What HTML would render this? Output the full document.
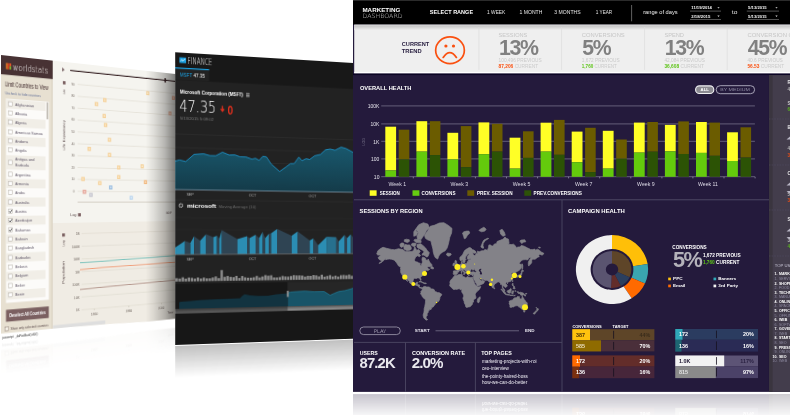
<!DOCTYPE html>
<html lang="en"><head><meta charset="utf-8"><title>Dashboards</title>
<style>
html,body{margin:0;padding:0;background:#fff}
body{width:790px;height:415px;overflow:hidden;position:relative;font-family:"Liberation Sans",sans-serif}
.p{position:absolute;transform-origin:0 0}
#left{left:0;top:0;width:220px;height:286px;transform:matrix3d(0.9135632,0.13764588,0,0.00068593378,0,1,0,0,0,0,1,0,1,55,0,1);-webkit-box-reflect: below 1.5px linear-gradient(to bottom, rgba(0,0,0,0) 0, rgba(0,0,0,0) calc(100% - 32px), rgba(0,0,0,0.16) 100%);}
#fin{left:0;top:0;width:190px;height:292px;transform:matrix3d(1.0514255,0.076721499,0,0.0003244151,0,1.0027397,0,0,0,0,1,0,175.2,52.2,0,1);-webkit-box-reflect: below 1.0px linear-gradient(to bottom, rgba(0,0,0,0) 0, rgba(0,0,0,0) calc(100% - 32px), rgba(0,0,0,0.27) 100%);}
#main{left:353px;top:0;width:437px;height:391.9px;-webkit-box-reflect: below 2.0px linear-gradient(to bottom, rgba(0,0,0,0) 0, rgba(0,0,0,0) calc(100% - 25px), rgba(0,0,0,0.26) 100%);}
text{white-space:pre}
</style></head><body>
<div id="left" class="p">
<svg width="220" height="286" viewBox="0 0 220 286" font-family="Liberation Sans, sans-serif" style="display:block">
<defs><linearGradient id="lsh" x1="0" y1="0" x2="1" y2="0"><stop offset="0" stop-color="#000" stop-opacity="0"/><stop offset="0.26" stop-color="#000" stop-opacity="0.09"/><stop offset="0.62" stop-color="#000" stop-opacity="0.25"/><stop offset="1" stop-color="#000" stop-opacity="0.5"/></linearGradient></defs>
<rect x="0.0" y="0.0" width="220.0" height="286.0" fill="#ffffff" />
<path d="M0,0 H220 V281.6 L180,281.6 L117,279.4 L58.7,278.7 L0,278.6Z" fill="#f5f4ef"/>
<path d="M58.7,169 H220 V281.6 L180,281.6 L117,279.4 L58.7,278.7Z" fill="#f0ece4"/>
<path d="M59.3,275.4 H124 V279.6 L59.3,278.8Z" fill="#dedede"/>
<text x="1.5" y="283.6" font-size="3.90" fill="#1a1a1a" textLength="40.0" lengthAdjust="spacingAndGlyphs" >javascript:__doPostBack(&#39;ctl00&#39;)</text>
<path d="M0,19.2 H58.7 V278.7 L0,278.6Z" fill="#e7e0d1"/>
<rect x="57.6" y="19.2" width="1.1" height="259.5" fill="#d9d1c1" />
<rect x="0.0" y="0.0" width="58.9" height="19.2" fill="#483234" />
<rect x="5.6" y="7.4" width="2.0" height="6.2" fill="#f07c20" /><rect x="7.6" y="7.4" width="1.8" height="6.2" fill="#cf3a22" /><rect x="9.4" y="10.2" width="1.8" height="3.4" fill="#7fae30" /><rect x="9.4" y="7.4" width="1.8" height="2.8" fill="#e2542a" />
<text x="13.0" y="13.7" font-size="8.4" textLength="40.5" lengthAdjust="spacingAndGlyphs" font-family="DejaVu Sans Light, DejaVu Sans, sans-serif" font-weight="200"><tspan fill="#fff">world</tspan><tspan fill="#ece6e2">stats</tspan></text>
<text x="4.4" y="31.2" font-size="6.40" fill="#3d2729" textLength="49.4" lengthAdjust="spacingAndGlyphs" >Limit Countries to View</text>
<text x="4.4" y="38.8" font-size="4.20" fill="#66739a" textLength="40.5" lengthAdjust="spacingAndGlyphs" >Uncheck to hide countries</text>
<rect x="5.5" y="43.1" width="48.9" height="205.3" fill="#fcfbf9" />
<rect x="5.5" y="43.6" width="45.0" height="9.3" fill="#f1eee7" />
<text x="15.7" y="49.8" font-size="4.10" fill="#5d5566" >Afghanistan</text>
<rect x="8.2" y="46.1" width="4.2" height="4.2" fill="#fff" stroke="#a9a49a" stroke-width="0.5"/>
<text x="15.7" y="58.9" font-size="4.10" fill="#5d5566" >Albania</text>
<rect x="8.2" y="55.2" width="4.2" height="4.2" fill="#fff" stroke="#a9a49a" stroke-width="0.5"/>
<rect x="5.5" y="62.1" width="45.0" height="9.3" fill="#f1eee7" />
<text x="15.7" y="68.3" font-size="4.10" fill="#5d5566" >Algeria</text>
<rect x="8.2" y="64.6" width="4.2" height="4.2" fill="#fff" stroke="#a9a49a" stroke-width="0.5"/>
<text x="15.7" y="78.0" font-size="4.10" fill="#5d5566" >American Samoa</text>
<rect x="8.2" y="74.3" width="4.2" height="4.2" fill="#fff" stroke="#a9a49a" stroke-width="0.5"/>
<rect x="5.5" y="80.9" width="45.0" height="9.3" fill="#f1eee7" />
<text x="15.7" y="87.1" font-size="4.10" fill="#5d5566" >Andorra</text>
<rect x="8.2" y="83.4" width="4.2" height="4.2" fill="#fff" stroke="#a9a49a" stroke-width="0.5"/>
<text x="15.7" y="96.2" font-size="4.10" fill="#5d5566" >Angola</text>
<rect x="8.2" y="92.5" width="4.2" height="4.2" fill="#fff" stroke="#a9a49a" stroke-width="0.5"/>
<rect x="5.5" y="99.9" width="45.0" height="14.4" fill="#f1eee7" />
<text x="15.7" y="105.5" font-size="4.10" fill="#5d5566" >Antigua and</text>
<text x="15.7" y="111.3" font-size="4.10" fill="#5d5566" >Barbuda</text>
<rect x="8.2" y="105.0" width="4.2" height="4.2" fill="#fff" stroke="#a9a49a" stroke-width="0.5"/>
<text x="15.7" y="120.6" font-size="4.10" fill="#5d5566" >Argentina</text>
<rect x="8.2" y="116.9" width="4.2" height="4.2" fill="#fff" stroke="#a9a49a" stroke-width="0.5"/>
<rect x="5.5" y="123.7" width="45.0" height="9.3" fill="#f1eee7" />
<text x="15.7" y="129.9" font-size="4.10" fill="#5d5566" >Armenia</text>
<rect x="8.2" y="126.2" width="4.2" height="4.2" fill="#fff" stroke="#a9a49a" stroke-width="0.5"/>
<text x="15.7" y="138.8" font-size="4.10" fill="#5d5566" >Aruba</text>
<rect x="8.2" y="135.1" width="4.2" height="4.2" fill="#fff" stroke="#a9a49a" stroke-width="0.5"/>
<rect x="5.5" y="142.4" width="45.0" height="9.3" fill="#f1eee7" />
<text x="15.7" y="148.6" font-size="4.10" fill="#5d5566" >Australia</text>
<rect x="8.2" y="144.9" width="4.2" height="4.2" fill="#fff" stroke="#a9a49a" stroke-width="0.5"/>
<text x="15.7" y="157.8" font-size="4.10" fill="#5d5566" >Austria</text>
<rect x="8.2" y="154.1" width="4.2" height="4.2" fill="#fff" stroke="#a9a49a" stroke-width="0.5"/>
<path d="M9,156.3 l1.2,1.3 l2,-2.8" fill="none" stroke="#333" stroke-width="0.8"/>
<rect x="5.5" y="161.0" width="45.0" height="9.3" fill="#f1eee7" />
<text x="15.7" y="167.2" font-size="4.10" fill="#5d5566" >Azerbaijan</text>
<rect x="8.2" y="163.5" width="4.2" height="4.2" fill="#fff" stroke="#a9a49a" stroke-width="0.5"/>
<path d="M9,165.7 l1.2,1.3 l2,-2.8" fill="none" stroke="#333" stroke-width="0.8"/>
<text x="15.7" y="176.6" font-size="4.10" fill="#5d5566" >Bahamas</text>
<rect x="8.2" y="172.9" width="4.2" height="4.2" fill="#fff" stroke="#a9a49a" stroke-width="0.5"/>
<path d="M9,175.1 l1.2,1.3 l2,-2.8" fill="none" stroke="#333" stroke-width="0.8"/>
<rect x="5.5" y="179.6" width="45.0" height="9.3" fill="#f1eee7" />
<text x="15.7" y="185.8" font-size="4.10" fill="#5d5566" >Bahrain</text>
<rect x="8.2" y="182.1" width="4.2" height="4.2" fill="#fff" stroke="#a9a49a" stroke-width="0.5"/>
<text x="15.7" y="195.0" font-size="4.10" fill="#5d5566" >Bangladesh</text>
<rect x="8.2" y="191.3" width="4.2" height="4.2" fill="#fff" stroke="#a9a49a" stroke-width="0.5"/>
<rect x="5.5" y="198.4" width="45.0" height="9.3" fill="#f1eee7" />
<text x="15.7" y="204.6" font-size="4.10" fill="#5d5566" >Barbados</text>
<rect x="8.2" y="200.9" width="4.2" height="4.2" fill="#fff" stroke="#a9a49a" stroke-width="0.5"/>
<text x="15.7" y="214.1" font-size="4.10" fill="#5d5566" >Belarus</text>
<rect x="8.2" y="210.4" width="4.2" height="4.2" fill="#fff" stroke="#a9a49a" stroke-width="0.5"/>
<rect x="5.5" y="217.3" width="45.0" height="9.3" fill="#f1eee7" />
<text x="15.7" y="223.5" font-size="4.10" fill="#5d5566" >Belgium</text>
<rect x="8.2" y="219.8" width="4.2" height="4.2" fill="#fff" stroke="#a9a49a" stroke-width="0.5"/>
<text x="15.7" y="232.7" font-size="4.10" fill="#5d5566" >Belize</text>
<rect x="8.2" y="229.0" width="4.2" height="4.2" fill="#fff" stroke="#a9a49a" stroke-width="0.5"/>
<rect x="5.5" y="236.0" width="45.0" height="9.3" fill="#f1eee7" />
<text x="15.7" y="242.2" font-size="4.10" fill="#5d5566" >Benin</text>
<rect x="8.2" y="238.5" width="4.2" height="4.2" fill="#fff" stroke="#a9a49a" stroke-width="0.5"/>
<rect x="51.7" y="43.8" width="1.7" height="17.5" fill="#b9b4ab" />
<rect x="5.5" y="255.3" width="48.8" height="12.0" fill="#7b6061" />
<text x="29.9" y="263.1" font-size="4.90" fill="#fff" textLength="41.5" lengthAdjust="spacingAndGlyphs" font-weight="700" text-anchor="middle" >Deselect All Countries</text>
<rect x="4.4" y="272.4" width="3.8" height="3.8" fill="#f4efe6" stroke="#8a7a72" stroke-width="0.5"/>
<text x="10.4" y="276.2" font-size="4.30" fill="#5c4c4c" textLength="43.5" lengthAdjust="spacingAndGlyphs" >Show only selected countries</text>
<path d="M70.2,6.0 l3.0,2.3 l-3.0,2.3z" fill="#7a6467"/>
<line x1="80.0" y1="8.4" x2="220.0" y2="8.4" stroke="#3b2628" stroke-width="1.30" />
<rect x="204.2" y="6.0" width="2.0" height="4.8" fill="#3b2628" />
<line x1="89.0" y1="22.3" x2="220.0" y2="22.3" stroke="#e1ddd3" stroke-width="0.70" />
<text x="85.5" y="23.6" font-size="3.50" fill="#6f655e" text-anchor="end" >90</text>
<line x1="89.0" y1="34.9" x2="220.0" y2="34.9" stroke="#e1ddd3" stroke-width="0.70" />
<text x="85.5" y="36.2" font-size="3.50" fill="#6f655e" text-anchor="end" >80</text>
<line x1="89.0" y1="47.5" x2="220.0" y2="47.5" stroke="#e1ddd3" stroke-width="0.70" />
<text x="85.5" y="48.8" font-size="3.50" fill="#6f655e" text-anchor="end" >70</text>
<line x1="89.0" y1="60.1" x2="220.0" y2="60.1" stroke="#e1ddd3" stroke-width="0.70" />
<text x="85.5" y="61.4" font-size="3.50" fill="#6f655e" text-anchor="end" >60</text>
<line x1="89.0" y1="72.7" x2="220.0" y2="72.7" stroke="#e1ddd3" stroke-width="0.70" />
<text x="85.5" y="74.0" font-size="3.50" fill="#6f655e" text-anchor="end" >50</text>
<line x1="89.0" y1="85.3" x2="220.0" y2="85.3" stroke="#e1ddd3" stroke-width="0.70" />
<text x="85.5" y="86.6" font-size="3.50" fill="#6f655e" text-anchor="end" >40</text>
<line x1="89.0" y1="97.9" x2="220.0" y2="97.9" stroke="#e1ddd3" stroke-width="0.70" />
<text x="85.5" y="99.2" font-size="3.50" fill="#6f655e" text-anchor="end" >30</text>
<line x1="89.0" y1="110.5" x2="220.0" y2="110.5" stroke="#e1ddd3" stroke-width="0.70" />
<text x="85.5" y="111.8" font-size="3.50" fill="#6f655e" text-anchor="end" >20</text>
<line x1="89.0" y1="123.1" x2="220.0" y2="123.1" stroke="#e1ddd3" stroke-width="0.70" />
<text x="85.5" y="124.4" font-size="3.50" fill="#6f655e" text-anchor="end" >10</text>
<line x1="89.0" y1="135.7" x2="220.0" y2="135.7" stroke="#e1ddd3" stroke-width="0.70" />
<text x="85.5" y="137.0" font-size="3.50" fill="#6f655e" text-anchor="end" >0</text>
<line x1="89.0" y1="147.2" x2="220.0" y2="147.2" stroke="#c9c4b8" stroke-width="0.80" />
<rect x="71" y="20.2" width="3.4" height="3.4" fill="#7b6061"/>
<text transform="translate(73.9,31.5) rotate(-90)" font-size="4" fill="#5c4c4c" text-anchor="middle">Lin</text>
<text transform="translate(73.9,77) rotate(-90)" font-size="4.3" fill="#5c4c4c" text-anchor="middle" textLength="32" lengthAdjust="spacingAndGlyphs">Life Expectancy</text>
<rect x="178.5" y="22.7" width="4.4" height="4.4" fill="#f5d29c" />
<rect x="179.8" y="24.0" width="1.8" height="1.8" fill="#fbeacb" />
<rect x="121.1" y="34.4" width="4.4" height="4.4" fill="#f5d29c" />
<rect x="122.4" y="35.7" width="1.8" height="1.8" fill="#fbeacb" />
<rect x="110.6" y="39.4" width="4.4" height="4.4" fill="#f5d29c" />
<rect x="111.9" y="40.7" width="1.8" height="1.8" fill="#fbeacb" />
<rect x="214.8" y="25.5" width="4.4" height="4.4" fill="#e9b39a" />
<rect x="216.1" y="26.8" width="1.8" height="1.8" fill="#f5d9cb" />
<rect x="120.5" y="51.7" width="4.4" height="4.4" fill="#f5d29c" />
<rect x="121.8" y="53.0" width="1.8" height="1.8" fill="#fbeacb" />
<rect x="209.9" y="43.5" width="4.4" height="4.4" fill="#e9b39a" />
<rect x="211.2" y="44.8" width="1.8" height="1.8" fill="#f5d9cb" />
<rect x="122.0" y="61.4" width="4.4" height="4.4" fill="#f5d29c" />
<rect x="123.3" y="62.7" width="1.8" height="1.8" fill="#fbeacb" />
<rect x="127.1" y="77.2" width="4.4" height="4.4" fill="#f5d29c" />
<rect x="128.4" y="78.5" width="1.8" height="1.8" fill="#fbeacb" />
<rect x="101.4" y="88.0" width="4.4" height="4.4" fill="#f5d29c" />
<rect x="102.7" y="89.3" width="1.8" height="1.8" fill="#fbeacb" />
<rect x="127.2" y="93.6" width="4.4" height="4.4" fill="#f5d29c" />
<rect x="128.5" y="94.9" width="1.8" height="1.8" fill="#fbeacb" />
<rect x="139.2" y="107.1" width="4.4" height="4.4" fill="#f5d29c" />
<rect x="140.5" y="108.4" width="1.8" height="1.8" fill="#fbeacb" />
<rect x="170.8" y="105.0" width="4.4" height="4.4" fill="#f5d29c" />
<rect x="172.1" y="106.3" width="1.8" height="1.8" fill="#fbeacb" />
<rect x="139.2" y="117.6" width="4.4" height="4.4" fill="#f5d29c" />
<rect x="140.5" y="118.9" width="1.8" height="1.8" fill="#fbeacb" />
<rect x="93.5" y="120.4" width="4.4" height="4.4" fill="#f5d29c" />
<rect x="94.8" y="121.7" width="1.8" height="1.8" fill="#fbeacb" />
<rect x="114.8" y="124.5" width="4.4" height="4.4" fill="#f5d29c" />
<rect x="116.1" y="125.8" width="1.8" height="1.8" fill="#fbeacb" />
<rect x="175.4" y="122.7" width="4.4" height="4.4" fill="#f2b77c" />
<rect x="176.7" y="124.0" width="1.8" height="1.8" fill="#f9dcbb" />
<rect x="128.9" y="129.1" width="4.4" height="4.4" fill="#9dbfe0" />
<rect x="130.2" y="130.4" width="1.8" height="1.8" fill="#d3e3f3" />
<rect x="95.4" y="134.0" width="4.4" height="4.4" fill="#e6a79b" />
<rect x="96.7" y="135.3" width="1.8" height="1.8" fill="#f3d2cb" />
<rect x="103.4" y="137.3" width="4.4" height="4.4" fill="#c6c6cf" />
<rect x="104.7" y="138.6" width="1.8" height="1.8" fill="#e3e3e8" />
<rect x="155.9" y="140.3" width="4.4" height="4.4" fill="#b8d4ee" />
<rect x="157.2" y="141.6" width="1.8" height="1.8" fill="#deebf7" />
<text x="80.0" y="162.3" font-size="4.20" fill="#5c4c4c" textLength="7.6" lengthAdjust="spacingAndGlyphs" >Log</text>
<rect x="89.6" y="159.0" width="3.4" height="3.4" fill="#7b6061"/>
<text x="206.0" y="161.2" font-size="4.00" fill="#5c4c4c" >GDP</text>
<line x1="94.0" y1="180.6" x2="220.0" y2="180.6" stroke="#e0dbd0" stroke-width="0.70" />
<text x="91.5" y="182.0" font-size="3.90" fill="#6f655e" text-anchor="end" >1B</text>
<line x1="94.0" y1="194.2" x2="220.0" y2="194.2" stroke="#e0dbd0" stroke-width="0.70" />
<text x="91.5" y="195.6" font-size="3.90" fill="#6f655e" text-anchor="end" >100M</text>
<line x1="94.0" y1="207.7" x2="220.0" y2="207.7" stroke="#e0dbd0" stroke-width="0.70" />
<text x="91.5" y="209.1" font-size="3.90" fill="#6f655e" text-anchor="end" >10M</text>
<line x1="94.0" y1="221.2" x2="220.0" y2="221.2" stroke="#e0dbd0" stroke-width="0.70" />
<text x="91.5" y="222.7" font-size="3.90" fill="#6f655e" text-anchor="end" >1M</text>
<line x1="94.0" y1="234.8" x2="220.0" y2="234.8" stroke="#e0dbd0" stroke-width="0.70" />
<text x="91.5" y="236.2" font-size="3.90" fill="#6f655e" text-anchor="end" >100K</text>
<line x1="94.0" y1="248.3" x2="220.0" y2="248.3" stroke="#e0dbd0" stroke-width="0.70" />
<text x="91.5" y="249.8" font-size="3.90" fill="#6f655e" text-anchor="end" >10K</text>
<line x1="94.0" y1="261.9" x2="220.0" y2="261.9" stroke="#e0dbd0" stroke-width="0.70" />
<text x="91.5" y="263.3" font-size="3.90" fill="#6f655e" text-anchor="end" >1K</text>
<rect x="70.2" y="180" width="3.4" height="3.4" fill="#7b6061"/>
<text transform="translate(73.2,190.5) rotate(-90)" font-size="4" fill="#5c4c4c" text-anchor="middle">Log</text>
<text transform="translate(73.2,221) rotate(-90)" font-size="4.3" fill="#5c4c4c" text-anchor="middle" textLength="24" lengthAdjust="spacingAndGlyphs">Population</text>
<path d="M92,211.7 L120,211.3 L150,210.4 L180,209.9 L220,208.9" fill="none" stroke="#62b9b3" stroke-width="0.85"/>
<path d="M92,219.1 L120,218.0 L150,217.6 L180,217.2 L220,216.4" fill="none" stroke="#f09068" stroke-width="0.85"/>
<path d="M92,240.2 L130,239.0 L170,238.2 L220,237.1" fill="none" stroke="#a8857b" stroke-width="0.85"/>
<line x1="110.2" y1="261.9" x2="110.2" y2="263.4" stroke="#bdb7aa" stroke-width="0.60" />
<text x="110.2" y="268.9" font-size="3.90" fill="#6f655e" text-anchor="middle" >1960</text>
<line x1="154.9" y1="261.9" x2="154.9" y2="263.4" stroke="#bdb7aa" stroke-width="0.60" />
<text x="154.9" y="268.9" font-size="3.90" fill="#6f655e" text-anchor="middle" >1980</text>
<line x1="199.6" y1="261.9" x2="199.6" y2="263.4" stroke="#bdb7aa" stroke-width="0.60" />
<text x="199.6" y="268.9" font-size="3.90" fill="#6f655e" text-anchor="middle" >2000</text>
<text x="208.5" y="275.4" font-size="4.20" fill="#5c4c4c" >Year</text>
<path d="M178,0 H220 V281.6 L178,281.6Z" fill="url(#lsh)"/>
</svg>
</div>
<div id="fin" class="p">
<svg width="190" height="292" viewBox="0 0 190 292" font-family="Liberation Sans, sans-serif" style="display:block">
<defs><linearGradient id="ag" x1="0" y1="0" x2="0" y2="1"><stop offset="0" stop-color="#19586d"/><stop offset="1" stop-color="#143b49"/></linearGradient><linearGradient id="sbg" x1="0" y1="0" x2="0" y2="1"><stop offset="0" stop-color="#5a5a5a"/><stop offset="1" stop-color="#9a9a9a"/></linearGradient></defs>
<rect x="0.0" y="0.0" width="190.0" height="292.0" fill="#222222" />
<rect x="0.0" y="0.0" width="190.0" height="27.6" fill="#181818" />
<rect x="0.0" y="15.6" width="34.5" height="12.0" fill="#222222" />
<rect x="0.0" y="15.0" width="34.5" height="1.2" fill="#1ba1e2" />
<rect x="4.3" y="4.8" width="6.7" height="5.6" fill="#1ba1e2" />
<path d="M5.2,8.6 l1.5,-1.6 l1.3,1.2 l2.2,-2.2" fill="none" stroke="#fff" stroke-width="0.8"/>
<text x="12.6" y="10.9" font-size="8.60" fill="#ffffff" textLength="24.9" lengthAdjust="spacingAndGlyphs" font-family="DejaVu Sans Light, DejaVu Sans, sans-serif" font-weight="200">FINANCE</text>
<text x="4.7" y="24.5" font-size="5.3" textLength="25.4" lengthAdjust="spacingAndGlyphs"><tspan fill="#1ba1e2">MSFT</tspan><tspan fill="#fff"> 47.35</tspan></text>
<text x="4.7" y="41.2" font-size="5.50" fill="#fff" textLength="65.1" lengthAdjust="spacingAndGlyphs" font-weight="700" >Microsoft Corporation (MSFT)</text>
<line x1="73.0" y1="37.8" x2="76.6" y2="37.8" stroke="#ddd" stroke-width="0.70" /><line x1="73.0" y1="39.3" x2="76.6" y2="39.3" stroke="#ddd" stroke-width="0.70" /><line x1="73.0" y1="40.8" x2="76.6" y2="40.8" stroke="#ddd" stroke-width="0.70" />
<text x="4.2" y="59.2" font-size="16.60" fill="#ffffff" textLength="37.3" lengthAdjust="spacingAndGlyphs" font-family="DejaVu Sans Light, DejaVu Sans, sans-serif" font-weight="200">47.35</text>
<path d="M48.3,51.5 l0,5 m-1.8,-1.8 l1.8,2.2 l1.8,-2.2" fill="none" stroke="#e0301e" stroke-width="1.3"/>
<text x="53.4" y="60.4" font-size="12.60" fill="#e0301e" textLength="5.8" lengthAdjust="spacingAndGlyphs" font-weight="700" >0</text>
<text x="4.7" y="67.4" font-size="3.80" fill="#7a7a7a" textLength="34.4" lengthAdjust="spacingAndGlyphs" >5/13/2015 5:09:02</text>
<line x1="0.0" y1="81.6" x2="190.0" y2="81.6" stroke="#323232" stroke-width="0.60" />
<line x1="0.0" y1="95.0" x2="190.0" y2="95.0" stroke="#323232" stroke-width="0.60" />
<line x1="0.0" y1="108.4" x2="190.0" y2="108.4" stroke="#323232" stroke-width="0.60" />
<line x1="0.0" y1="121.8" x2="190.0" y2="121.8" stroke="#323232" stroke-width="0.60" />
<path d="M0.0,108.6L4.4,107.4L10.6,108.8L19.1,101.4L28.9,100.6L35.2,102.2L41.4,102.2L48.3,98.4L55.1,101.0L61.3,100.8L66.5,102.6L72.8,102.6L79.1,104.7L82.9,103.7L86.8,105.8L90.7,101.5L94.5,101.9L99.6,109.2L108.7,116.7L115.3,112.1L120.5,108.3L124.4,108.2L129.6,101.2L133.0,104.9L137.5,102.7L141.5,103.5L146.8,99.5L153.5,97.8L158.8,92.9L164.1,92.0L169.6,93.1L176.3,89.6L181.7,90.8L190.0,94.8 L190,137 L0,137Z" fill="url(#ag)"/>
<path d="M0.0,108.6L4.4,107.4L10.6,108.8L19.1,101.4L28.9,100.6L35.2,102.2L41.4,102.2L48.3,98.4L55.1,101.0L61.3,100.8L66.5,102.6L72.8,102.6L79.1,104.7L82.9,103.7L86.8,105.8L90.7,101.5L94.5,101.9L99.6,109.2L108.7,116.7L115.3,112.1L120.5,108.3L124.4,108.2L129.6,101.2L133.0,104.9L137.5,102.7L141.5,103.5L146.8,99.5L153.5,97.8L158.8,92.9L164.1,92.0L169.6,93.1L176.3,89.6L181.7,90.8L190.0,94.8" fill="none" stroke="#1c90c4" stroke-width="0.9"/>
<line x1="0.0" y1="137.0" x2="190.0" y2="137.0" stroke="#7f97a8" stroke-width="0.80" />
<text x="15.1" y="143.0" font-size="3.70" fill="#b0b0b0" text-anchor="middle" >SEP</text>
<text x="79.6" y="143.0" font-size="3.70" fill="#b0b0b0" text-anchor="middle" >OCT</text>
<text x="144.5" y="143.0" font-size="3.70" fill="#b0b0b0" text-anchor="middle" >OCT</text>
<line x1="0.0" y1="147.2" x2="190.0" y2="147.2" stroke="#333" stroke-width="0.60" />
<circle cx="5.8" cy="152.8" r="1.7" fill="none" stroke="#ddd" stroke-width="1.1" stroke-dasharray="0.9 0.45"/>
<text x="11.9" y="154.6" font-size="5.20" fill="#fff" textLength="29.8" lengthAdjust="spacingAndGlyphs" font-weight="700" >microsoft</text>
<text x="44.6" y="154.6" font-size="4.20" fill="#6c6c6c" textLength="38.8" lengthAdjust="spacingAndGlyphs" >Moving Average (10)</text>
<line x1="0.0" y1="165.0" x2="190.0" y2="165.0" stroke="#2d2d2d" stroke-width="0.60" />
<line x1="0.0" y1="177.0" x2="190.0" y2="177.0" stroke="#2d2d2d" stroke-width="0.60" />
<line x1="0.0" y1="189.0" x2="190.0" y2="189.0" stroke="#2d2d2d" stroke-width="0.60" />
<path d="M0.1,201.7 L0.1,194.8 L9.8,188.3 L9.8,201.7Z" fill="#2b8db3"/>
<path d="M9.8,201.7 L9.8,188.3 L15.4,190.3 L15.4,201.7Z" fill="#2f4453"/>
<path d="M15.4,201.7 L15.4,190.3 L19.1,183.5 L19.1,201.7Z" fill="#2b8db3"/>
<path d="M19.1,201.7 L19.1,183.5 L25.3,187.9 L25.3,201.7Z" fill="#2f4453"/>
<path d="M25.3,201.7 L25.3,187.9 L31.4,181.6 L31.4,201.7Z" fill="#2b8db3"/>
<path d="M31.4,201.7 L31.4,181.6 L38.9,184.5 L38.9,201.7Z" fill="#2f4453"/>
<path d="M38.9,201.7 L38.9,184.5 L42.6,183.0 L42.6,201.7Z" fill="#2b8db3"/>
<path d="M42.6,201.7 L42.6,183.0 L45.1,185.9 L45.1,201.7Z" fill="#2f4453"/>
<path d="M45.1,201.7 L45.1,185.9 L47.6,177.2 L47.6,201.7Z" fill="#2b8db3"/>
<path d="M47.6,201.7 L47.6,177.2 L63.9,186.4 L63.9,201.7Z" fill="#2f4453"/>
<path d="M63.9,201.7 L63.9,186.4 L74.0,183.5 L74.0,201.7Z" fill="#2b8db3"/>
<path d="M74.0,201.7 L74.0,183.5 L76.6,185.5 L76.6,201.7Z" fill="#2f4453"/>
<path d="M76.6,201.7 L76.6,185.5 L83.0,182.0 L83.0,201.7Z" fill="#2b8db3"/>
<path d="M83.0,201.7 L83.0,182.0 L86.8,185.5 L86.8,201.7Z" fill="#2f4453"/>
<path d="M86.8,201.7 L86.8,185.5 L90.6,179.0 L90.6,201.7Z" fill="#2b8db3"/>
<path d="M90.6,201.7 L90.6,179.0 L93.2,185.5 L93.2,201.7Z" fill="#2f4453"/>
<path d="M93.2,201.7 L93.2,185.5 L97.1,181.0 L97.1,201.7Z" fill="#2b8db3"/>
<path d="M97.1,201.7 L97.1,181.0 L99.6,180.5 L99.6,201.7Z" fill="#2f4453"/>
<path d="M99.6,201.7 L99.6,180.5 L106.1,176.0 L106.1,201.7Z" fill="#2b8db3"/>
<path d="M106.1,201.7 L106.1,176.0 L121.7,183.0 L121.7,201.7Z" fill="#2f4453"/>
<path d="M121.7,201.7 L121.7,183.0 L128.3,178.5 L128.3,201.7Z" fill="#2b8db3"/>
<path d="M128.3,201.7 L128.3,178.5 L141.5,188.0 L141.5,201.7Z" fill="#2f4453"/>
<path d="M141.5,201.7 L141.5,188.0 L145.5,185.8 L145.5,201.7Z" fill="#2b8db3"/>
<path d="M145.5,201.7 L145.5,185.8 L150.8,193.1 L150.8,201.7Z" fill="#2f4453"/>
<path d="M150.8,201.7 L150.8,193.1 L160.2,184.0 L160.2,201.7Z" fill="#2b8db3"/>
<path d="M160.2,201.7 L160.2,184.0 L170.9,184.5 L170.9,201.7Z" fill="#27708e"/>
<path d="M170.9,201.7 L170.9,184.5 L173.6,189.1 L173.6,201.7Z" fill="#2f4453"/>
<path d="M173.6,201.7 L173.6,189.1 L180.4,182.0 L180.4,201.7Z" fill="#2b8db3"/>
<path d="M180.4,201.7 L180.4,182.0 L183.1,185.5 L183.1,201.7Z" fill="#2f4453"/>
<path d="M183.1,201.7 L183.1,185.5 L187.2,181.4 L187.2,201.7Z" fill="#2b8db3"/>
<path d="M187.2,201.7 L187.2,181.4 L190.0,184.5 L190.0,201.7Z" fill="#2f4453"/>
<line x1="0.0" y1="201.9" x2="190.0" y2="201.9" stroke="#8a8a8a" stroke-width="0.60" />
<text x="15.1" y="207.6" font-size="3.70" fill="#b0b0b0" text-anchor="middle" >SEP</text>
<text x="79.6" y="207.6" font-size="3.70" fill="#b0b0b0" text-anchor="middle" >OCT</text>
<text x="144.5" y="207.6" font-size="3.70" fill="#b0b0b0" text-anchor="middle" >OCT</text>
<rect x="0.3" y="225.4" width="2.4" height="3.4" fill="#8d8d8d" />
<rect x="3.4" y="225.8" width="2.4" height="3.0" fill="#8d8d8d" />
<rect x="6.5" y="224.6" width="2.4" height="4.2" fill="#8d8d8d" />
<rect x="9.5" y="226.0" width="2.4" height="2.8" fill="#8d8d8d" />
<rect x="12.6" y="224.9" width="2.4" height="3.9" fill="#8d8d8d" />
<rect x="15.7" y="225.3" width="2.4" height="3.5" fill="#8d8d8d" />
<rect x="18.7" y="226.1" width="2.4" height="2.7" fill="#8d8d8d" />
<rect x="21.8" y="225.0" width="2.4" height="3.8" fill="#8d8d8d" />
<rect x="24.9" y="226.1" width="2.4" height="2.7" fill="#8d8d8d" />
<rect x="27.9" y="225.2" width="2.4" height="3.6" fill="#8d8d8d" />
<rect x="31.0" y="226.0" width="2.4" height="2.8" fill="#8d8d8d" />
<rect x="34.1" y="226.0" width="2.4" height="2.8" fill="#8d8d8d" />
<rect x="37.1" y="225.2" width="2.4" height="3.6" fill="#8d8d8d" />
<rect x="40.2" y="224.2" width="2.4" height="4.6" fill="#8d8d8d" />
<rect x="43.3" y="225.9" width="2.4" height="2.9" fill="#8d8d8d" />
<rect x="46.3" y="217.8" width="2.4" height="11.0" fill="#8d8d8d" />
<rect x="49.4" y="224.7" width="2.4" height="4.1" fill="#8d8d8d" />
<rect x="52.4" y="223.9" width="2.4" height="4.9" fill="#8d8d8d" />
<rect x="55.5" y="224.8" width="2.4" height="4.0" fill="#8d8d8d" />
<rect x="58.6" y="225.2" width="2.4" height="3.6" fill="#8d8d8d" />
<rect x="61.6" y="223.9" width="2.4" height="4.9" fill="#8d8d8d" />
<rect x="64.7" y="226.1" width="2.4" height="2.7" fill="#8d8d8d" />
<rect x="67.8" y="224.1" width="2.4" height="4.7" fill="#8d8d8d" />
<rect x="70.8" y="225.5" width="2.4" height="3.3" fill="#8d8d8d" />
<rect x="73.9" y="225.9" width="2.4" height="2.9" fill="#8d8d8d" />
<rect x="77.0" y="225.9" width="2.4" height="2.9" fill="#8d8d8d" />
<rect x="80.0" y="225.5" width="2.4" height="3.3" fill="#8d8d8d" />
<rect x="83.1" y="224.2" width="2.4" height="4.6" fill="#8d8d8d" />
<rect x="86.2" y="225.8" width="2.4" height="3.0" fill="#8d8d8d" />
<rect x="89.2" y="224.8" width="2.4" height="4.0" fill="#8d8d8d" />
<rect x="92.3" y="223.5" width="2.4" height="5.3" fill="#8d8d8d" />
<rect x="95.3" y="224.1" width="2.4" height="4.7" fill="#8d8d8d" />
<rect x="98.4" y="223.7" width="2.4" height="5.1" fill="#8d8d8d" />
<rect x="101.5" y="226.0" width="2.4" height="2.8" fill="#8d8d8d" />
<rect x="104.5" y="226.1" width="2.4" height="2.7" fill="#8d8d8d" />
<rect x="107.6" y="225.7" width="2.4" height="3.1" fill="#8d8d8d" />
<rect x="110.7" y="224.6" width="2.4" height="4.2" fill="#8d8d8d" />
<rect x="113.7" y="225.2" width="2.4" height="3.6" fill="#8d8d8d" />
<rect x="116.8" y="225.4" width="2.4" height="3.4" fill="#8d8d8d" />
<rect x="119.9" y="224.8" width="2.4" height="4.0" fill="#8d8d8d" />
<rect x="122.9" y="223.9" width="2.4" height="4.9" fill="#8d8d8d" />
<rect x="126.0" y="224.3" width="2.4" height="4.5" fill="#8d8d8d" />
<rect x="129.1" y="224.3" width="2.4" height="4.5" fill="#8d8d8d" />
<rect x="132.1" y="224.5" width="2.4" height="4.3" fill="#8d8d8d" />
<rect x="135.2" y="225.6" width="2.4" height="3.2" fill="#8d8d8d" />
<rect x="138.3" y="224.8" width="2.4" height="4.0" fill="#8d8d8d" />
<rect x="141.3" y="224.9" width="2.4" height="3.9" fill="#8d8d8d" />
<rect x="144.4" y="224.1" width="2.4" height="4.7" fill="#8d8d8d" />
<rect x="147.4" y="224.4" width="2.4" height="4.4" fill="#8d8d8d" />
<rect x="150.5" y="225.5" width="2.4" height="3.3" fill="#8d8d8d" />
<rect x="153.6" y="223.8" width="2.4" height="5.0" fill="#8d8d8d" />
<rect x="156.6" y="225.9" width="2.4" height="2.9" fill="#8d8d8d" />
<rect x="159.7" y="225.2" width="2.4" height="3.6" fill="#8d8d8d" />
<rect x="162.8" y="224.4" width="2.4" height="4.4" fill="#8d8d8d" />
<rect x="165.8" y="225.8" width="2.4" height="3.0" fill="#8d8d8d" />
<rect x="168.9" y="225.0" width="2.4" height="3.8" fill="#8d8d8d" />
<rect x="172.0" y="226.1" width="2.4" height="2.7" fill="#8d8d8d" />
<rect x="175.0" y="224.6" width="2.4" height="4.2" fill="#8d8d8d" />
<rect x="178.1" y="224.4" width="2.4" height="4.4" fill="#8d8d8d" />
<rect x="181.2" y="224.8" width="2.4" height="4.0" fill="#8d8d8d" />
<rect x="184.2" y="224.1" width="2.4" height="4.7" fill="#8d8d8d" />
<rect x="187.3" y="225.4" width="2.4" height="3.4" fill="#8d8d8d" />
<rect x="0.0" y="231.2" width="117.4" height="25.0" fill="#171717" />
<rect x="117.4" y="231.2" width="72.6" height="25.0" fill="#262626" />
<path d="M4.0,249.6L5.6,248.9L15.0,248.6L25.1,247.8L40.5,247.2L56.1,246.9L66.6,246.8L69.0,244.2L71.5,242.7L77.1,243.9L85.6,244.8L96.2,244.8L104.8,243.4L115.3,242.8L117.7,242.6 L117.7,256.2 L4,256.2Z" fill="#123340"/>
<path d="M117.7,242.3L120.5,241.4L127.5,241.0L136.3,240.7L146.2,241.6L157.5,241.6L164.1,245.5L168.4,243.7L173.7,241.8L180.7,240.9L190.0,238.6 L190,256.2 L117.7,256.2Z" fill="#185468"/>
<path d="M117.7,242.3L120.5,241.4L127.5,241.0L136.3,240.7L146.2,241.6L157.5,241.6L164.1,245.5L168.4,243.7L173.7,241.8L180.7,240.9L190.0,238.6" fill="none" stroke="#1f7f9e" stroke-width="0.7"/>
<rect x="116.6" y="240.0" width="1.9" height="6.4" fill="#9a9a9a" />
<rect x="0.0" y="256.2" width="190.0" height="4.6" fill="url(#sbg)" />
<rect x="0.0" y="256.2" width="117.4" height="4.6" fill="#000" opacity="0.35"/>
<rect x="0.0" y="260.8" width="190.0" height="31.2" fill="#171717" />
</svg>
</div>
<div id="main" class="p">
<svg width="437" height="391.9" viewBox="353 0 437 391.9" font-family="Liberation Sans, sans-serif" style="display:block">
<defs><linearGradient id="gsh" x1="0" y1="0" x2="0" y2="1"><stop offset="0" stop-color="#e6e6e6"/><stop offset="0.22" stop-color="#c6c6c6"/><stop offset="1" stop-color="#efefef"/></linearGradient></defs>
<rect x="353.0" y="0.0" width="437.0" height="391.9" fill="#241a3c" />
<rect x="353.0" y="0.0" width="437.0" height="24.7" fill="#000" />
<rect x="353.0" y="0.0" width="437.0" height="0.9" fill="#303030" />
<text x="362.4" y="12.4" font-size="5.90" fill="#fff" textLength="37.9" lengthAdjust="spacingAndGlyphs" font-weight="700" >MARKETING</text>
<text x="362.4" y="17.8" font-size="6.00" fill="#d4d4d4" textLength="40.3" lengthAdjust="spacingAndGlyphs" font-family="DejaVu Sans Light, DejaVu Sans, sans-serif" font-weight="200">DASHBOARD</text>
<text x="429.8" y="13.7" font-size="6.00" fill="#fff" textLength="43.3" lengthAdjust="spacingAndGlyphs" font-weight="700" >SELECT RANGE</text>
<text x="487.1" y="13.7" font-size="5.40" fill="#e8e8e8" textLength="18.2" lengthAdjust="spacingAndGlyphs" >1 WEEK</text>
<text x="519.5" y="13.7" font-size="5.40" fill="#e8e8e8" textLength="22.9" lengthAdjust="spacingAndGlyphs" >1 MONTH</text>
<text x="554.3" y="13.7" font-size="5.40" fill="#e8e8e8" textLength="26.3" lengthAdjust="spacingAndGlyphs" >3 MONTHS</text>
<text x="595.8" y="13.7" font-size="5.40" fill="#e8e8e8" textLength="16.4" lengthAdjust="spacingAndGlyphs" >1 YEAR</text>
<line x1="631.6" y1="5.0" x2="631.6" y2="21.3" stroke="#777" stroke-width="0.80" />
<text x="643.2" y="13.6" font-size="6.00" fill="#f0f0f0" textLength="34.4" lengthAdjust="spacingAndGlyphs" >range of days</text>
<text x="691.3" y="9.5" font-size="4.00" fill="#f4f4f4" textLength="20.6" lengthAdjust="spacingAndGlyphs" font-weight="700" >11/19/2014</text>
<path d="M717.4,7.2 l2.2,0 l-1.1,1.4z" fill="#ddd"/>
<line x1="690.0" y1="11.1" x2="721.0" y2="11.1" stroke="#8a8a8a" stroke-width="0.60" />
<text x="691.3" y="17.9" font-size="4.00" fill="#f4f4f4" textLength="19.0" lengthAdjust="spacingAndGlyphs" font-weight="700" >2/18/2015</text>
<path d="M717.4,15.6 l2.2,0 l-1.1,1.4z" fill="#ddd"/>
<line x1="690.0" y1="19.5" x2="721.0" y2="19.5" stroke="#8a8a8a" stroke-width="0.60" />
<text x="748.1" y="9.5" font-size="4.00" fill="#f4f4f4" textLength="18.6" lengthAdjust="spacingAndGlyphs" font-weight="700" >5/13/2015</text>
<path d="M775.4,7.2 l2.2,0 l-1.1,1.4z" fill="#ddd"/>
<line x1="746.8" y1="11.1" x2="779.0" y2="11.1" stroke="#8a8a8a" stroke-width="0.60" />
<text x="748.1" y="17.9" font-size="4.00" fill="#f4f4f4" textLength="18.6" lengthAdjust="spacingAndGlyphs" font-weight="700" >5/13/2015</text>
<path d="M775.4,15.6 l2.2,0 l-1.1,1.4z" fill="#ddd"/>
<line x1="746.8" y1="19.5" x2="779.0" y2="19.5" stroke="#8a8a8a" stroke-width="0.60" />
<text x="731.8" y="13.7" font-size="5.60" fill="#e0e0e0" textLength="5.5" lengthAdjust="spacingAndGlyphs" >to</text>
<rect x="354.2" y="24.7" width="436.0" height="48.7" fill="#efefef" />
<rect x="354.2" y="24.7" width="436.0" height="5.5" fill="url(#gsh)" />
<rect x="354.2" y="71.9" width="436.0" height="1.5" fill="#ffffff" />
<rect x="353.0" y="73.6" width="437.0" height="1.5" fill="#0b0424" />
<text x="401.8" y="46.1" font-size="5.00" fill="#2a2142" textLength="27.4" lengthAdjust="spacingAndGlyphs" font-weight="700" >CURRENT</text>
<text x="401.8" y="53.5" font-size="5.00" fill="#2a2142" textLength="19.8" lengthAdjust="spacingAndGlyphs" font-weight="700" >TREND</text>
<ellipse cx="450" cy="50.25" rx="14.35" ry="13.4" fill="none" stroke="#fa5010" stroke-width="1.7"/>
<ellipse cx="445.9" cy="46.0" rx="1.6" ry="1.5" fill="#fa5010"/><ellipse cx="453.5" cy="46.0" rx="1.6" ry="1.5" fill="#fa5010"/>
<path d="M443.2,57.4 Q449.8,47.9 456.4,57.4" fill="none" stroke="#fa5010" stroke-width="1.8" stroke-linecap="round"/>
<line x1="478.9" y1="27.0" x2="478.9" y2="70.0" stroke="#dcdcdc" stroke-width="0.70" />
<line x1="561.6" y1="27.0" x2="561.6" y2="70.0" stroke="#dcdcdc" stroke-width="0.70" />
<line x1="644.6" y1="27.0" x2="644.6" y2="70.0" stroke="#dcdcdc" stroke-width="0.70" />
<line x1="727.2" y1="27.0" x2="727.2" y2="70.0" stroke="#dcdcdc" stroke-width="0.70" />
<text x="498.6" y="36.8" font-size="5.30" fill="#c6c6c6" textLength="28.8" lengthAdjust="spacingAndGlyphs" >SESSIONS</text>
<text x="499.0" y="55.5" font-size="22.40" fill="#808080" textLength="38.7" lengthAdjust="spacingAndGlyphs" font-weight="700" letter-spacing="-1.4">13%</text>
<text x="498.6" y="61.8" font-size="4.60" fill="#c9c9c9" textLength="43.1" lengthAdjust="spacingAndGlyphs" >100,496 PREVIOUS</text>
<text x="498.6" y="68.0" font-size="4.6" textLength="39.5" lengthAdjust="spacingAndGlyphs"><tspan fill="#fa5010" font-weight="700">87,206</tspan><tspan fill="#cbcbcb"> CURRENT</tspan></text>
<text x="581.8" y="36.8" font-size="5.30" fill="#c6c6c6" textLength="42.9" lengthAdjust="spacingAndGlyphs" >CONVERSIONS</text>
<text x="582.2" y="55.5" font-size="22.40" fill="#808080" textLength="28.0" lengthAdjust="spacingAndGlyphs" font-weight="700" letter-spacing="-1.4">5%</text>
<text x="581.8" y="61.8" font-size="4.60" fill="#c9c9c9" textLength="37.9" lengthAdjust="spacingAndGlyphs" >1,672 PREVIOUS</text>
<text x="581.8" y="68.0" font-size="4.6" textLength="35.0" lengthAdjust="spacingAndGlyphs"><tspan fill="#5fc41a" font-weight="700">1,760</tspan><tspan fill="#cbcbcb"> CURRENT</tspan></text>
<text x="664.4" y="36.8" font-size="5.30" fill="#c6c6c6" textLength="19.6" lengthAdjust="spacingAndGlyphs" >SPEND</text>
<text x="664.8" y="55.5" font-size="22.40" fill="#808080" textLength="38.5" lengthAdjust="spacingAndGlyphs" font-weight="700" letter-spacing="-1.4">13%</text>
<text x="664.4" y="61.8" font-size="4.60" fill="#c9c9c9" textLength="40.5" lengthAdjust="spacingAndGlyphs" >42,084 PREVIOUS</text>
<text x="664.4" y="68.0" font-size="4.6" textLength="39.5" lengthAdjust="spacingAndGlyphs"><tspan fill="#5fc41a" font-weight="700">36,608</tspan><tspan fill="#cbcbcb"> CURRENT</tspan></text>
<text x="747.4" y="36.8" font-size="5.30" fill="#c6c6c6" textLength="57.5" lengthAdjust="spacingAndGlyphs" >CONVERSION COST</text>
<text x="747.8" y="55.5" font-size="22.40" fill="#808080" textLength="38.3" lengthAdjust="spacingAndGlyphs" font-weight="700" letter-spacing="-1.4">45%</text>
<text x="747.4" y="61.8" font-size="4.60" fill="#c9c9c9" textLength="35.4" lengthAdjust="spacingAndGlyphs" >40.6 PREVIOUS</text>
<text x="747.4" y="68.0" font-size="4.6" textLength="36.9" lengthAdjust="spacingAndGlyphs"><tspan fill="#fa5010" font-weight="700">56.53</tspan><tspan fill="#cbcbcb"> CURRENT</tspan></text>
<rect x="769.0" y="75.1" width="21.0" height="316.8" fill="#433d4c" />
<rect x="769.0" y="75.1" width="3.6" height="316.8" fill="#3a353f" />
<text x="359.9" y="90.1" font-size="5.70" fill="#fff" textLength="51.6" lengthAdjust="spacingAndGlyphs" font-weight="700" >OVERALL HEALTH</text>
<rect x="695.6" y="85.9" width="18.2" height="7.6" rx="3.8" fill="#8c8b92" stroke="#f2f2f4" stroke-width="1.1"/>
<text x="704.7" y="91.3" font-size="4.30" fill="#fff" textLength="8.2" lengthAdjust="spacingAndGlyphs" font-weight="700" text-anchor="middle" >ALL</text>
<rect x="716.2" y="85.7" width="38.4" height="8.0" rx="4.0" fill="none" stroke="#b5b2c4" stroke-width="0.9"/>
<text x="735.0" y="91.3" font-size="4.40" fill="#908da4" textLength="29.6" lengthAdjust="spacingAndGlyphs" text-anchor="middle" >BY MEDIUM</text>
<line x1="381.2" y1="105.9" x2="754.9" y2="105.9" stroke="#57516d" stroke-width="1.20" />
<text x="379.4" y="108.2" font-size="5.00" fill="#e4e2ea" text-anchor="end" >100K</text>
<line x1="381.2" y1="123.8" x2="754.9" y2="123.8" stroke="#57516d" stroke-width="1.20" />
<text x="379.4" y="126.1" font-size="5.00" fill="#e4e2ea" text-anchor="end" >10K</text>
<line x1="381.2" y1="141.3" x2="754.9" y2="141.3" stroke="#57516d" stroke-width="1.20" />
<text x="379.4" y="143.6" font-size="5.00" fill="#e4e2ea" text-anchor="end" >1K</text>
<line x1="381.2" y1="158.9" x2="754.9" y2="158.9" stroke="#57516d" stroke-width="1.20" />
<text x="379.4" y="161.2" font-size="5.00" fill="#e4e2ea" text-anchor="end" >100</text>
<line x1="381.2" y1="176.6" x2="754.9" y2="176.6" stroke="#57516d" stroke-width="1.20" />
<text x="379.4" y="178.9" font-size="5.00" fill="#e4e2ea" text-anchor="end" >10</text>
<text transform="translate(364.6,141.7) rotate(-90)" font-size="3.6" fill="#7d7990" text-anchor="middle">LOG</text>
<rect x="385.3" y="126.7" width="10.8" height="43.7" fill="#ffff26" />
<rect x="385.3" y="170.4" width="10.8" height="6.4" fill="#64ca0c" />
<rect x="398.7" y="129.7" width="10.6" height="29.7" fill="#6b5c00" />
<rect x="398.7" y="159.4" width="10.6" height="17.4" fill="#2c5305" />
<line x1="413.3" y1="176.8" x2="413.3" y2="178.4" stroke="#cfcfe0" stroke-width="0.50" />
<rect x="416.4" y="121.2" width="10.8" height="30.4" fill="#ffff26" />
<rect x="416.4" y="151.6" width="10.8" height="25.2" fill="#64ca0c" />
<rect x="429.8" y="121.2" width="10.6" height="33.9" fill="#6b5c00" />
<rect x="429.8" y="155.1" width="10.6" height="21.7" fill="#2c5305" />
<line x1="444.4" y1="176.8" x2="444.4" y2="178.4" stroke="#cfcfe0" stroke-width="0.50" />
<rect x="447.4" y="132.8" width="10.8" height="26.6" fill="#ffff26" />
<rect x="447.4" y="159.4" width="10.8" height="17.4" fill="#64ca0c" />
<rect x="460.8" y="126.1" width="10.6" height="41.1" fill="#6b5c00" />
<rect x="460.8" y="167.2" width="10.6" height="9.6" fill="#2c5305" />
<line x1="475.4" y1="176.8" x2="475.4" y2="178.4" stroke="#cfcfe0" stroke-width="0.50" />
<rect x="478.5" y="122.4" width="10.8" height="31.8" fill="#ffff26" />
<rect x="478.5" y="154.2" width="10.8" height="22.6" fill="#64ca0c" />
<rect x="491.9" y="123.8" width="10.6" height="27.8" fill="#6b5c00" />
<rect x="491.9" y="151.6" width="10.6" height="25.2" fill="#2c5305" />
<line x1="506.5" y1="176.8" x2="506.5" y2="178.4" stroke="#cfcfe0" stroke-width="0.50" />
<rect x="509.6" y="137.7" width="10.8" height="30.9" fill="#ffff26" />
<rect x="509.6" y="168.6" width="10.8" height="8.2" fill="#64ca0c" />
<rect x="523.0" y="131.3" width="10.6" height="26.6" fill="#6b5c00" />
<rect x="523.0" y="157.9" width="10.6" height="18.9" fill="#2c5305" />
<line x1="537.6" y1="176.8" x2="537.6" y2="178.4" stroke="#cfcfe0" stroke-width="0.50" />
<rect x="540.6" y="122.7" width="10.8" height="28.9" fill="#ffff26" />
<rect x="540.6" y="151.6" width="10.8" height="25.2" fill="#64ca0c" />
<rect x="554.0" y="119.9" width="10.6" height="34.9" fill="#6b5c00" />
<rect x="554.0" y="154.8" width="10.6" height="22.0" fill="#2c5305" />
<line x1="568.6" y1="176.8" x2="568.6" y2="178.4" stroke="#cfcfe0" stroke-width="0.50" />
<rect x="571.7" y="131.6" width="10.8" height="30.6" fill="#ffff26" />
<rect x="571.7" y="162.2" width="10.8" height="14.6" fill="#64ca0c" />
<rect x="585.1" y="127.8" width="10.6" height="44.3" fill="#6b5c00" />
<rect x="585.1" y="172.1" width="10.6" height="4.7" fill="#2c5305" />
<line x1="599.7" y1="176.8" x2="599.7" y2="178.4" stroke="#cfcfe0" stroke-width="0.50" />
<rect x="602.8" y="130.8" width="10.8" height="37.8" fill="#ffff26" />
<rect x="602.8" y="168.6" width="10.8" height="8.2" fill="#64ca0c" />
<rect x="616.2" y="139.5" width="10.6" height="19.2" fill="#6b5c00" />
<rect x="616.2" y="158.7" width="10.6" height="18.1" fill="#2c5305" />
<line x1="630.8" y1="176.8" x2="630.8" y2="178.4" stroke="#cfcfe0" stroke-width="0.50" />
<rect x="633.9" y="122.6" width="10.8" height="30.0" fill="#ffff26" />
<rect x="633.9" y="152.6" width="10.8" height="24.2" fill="#64ca0c" />
<rect x="647.3" y="122.0" width="10.6" height="29.7" fill="#6b5c00" />
<rect x="647.3" y="151.7" width="10.6" height="25.1" fill="#2c5305" />
<line x1="661.9" y1="176.8" x2="661.9" y2="178.4" stroke="#cfcfe0" stroke-width="0.50" />
<rect x="664.9" y="124.9" width="10.8" height="26.5" fill="#ffff26" />
<rect x="664.9" y="151.4" width="10.8" height="25.4" fill="#64ca0c" />
<rect x="678.3" y="121.4" width="10.6" height="32.6" fill="#6b5c00" />
<rect x="678.3" y="154.0" width="10.6" height="22.8" fill="#2c5305" />
<line x1="692.9" y1="176.8" x2="692.9" y2="178.4" stroke="#cfcfe0" stroke-width="0.50" />
<rect x="696.0" y="122.0" width="10.8" height="30.9" fill="#ffff26" />
<rect x="696.0" y="152.9" width="10.8" height="23.9" fill="#64ca0c" />
<rect x="709.4" y="122.6" width="10.6" height="33.2" fill="#6b5c00" />
<rect x="709.4" y="155.8" width="10.6" height="21.0" fill="#2c5305" />
<line x1="724.0" y1="176.8" x2="724.0" y2="178.4" stroke="#cfcfe0" stroke-width="0.50" />
<rect x="727.1" y="132.3" width="10.8" height="28.7" fill="#ffff26" />
<rect x="727.1" y="161.0" width="10.8" height="15.8" fill="#64ca0c" />
<rect x="740.5" y="127.3" width="10.6" height="30.3" fill="#6b5c00" />
<rect x="740.5" y="157.6" width="10.6" height="19.2" fill="#2c5305" />
<line x1="755.1" y1="176.8" x2="755.1" y2="178.4" stroke="#cfcfe0" stroke-width="0.50" />
<text x="397.3" y="185.6" font-size="5.20" fill="#dddae6" textLength="17.6" lengthAdjust="spacingAndGlyphs" text-anchor="middle" >Week 1</text>
<text x="459.4" y="185.6" font-size="5.20" fill="#dddae6" textLength="17.6" lengthAdjust="spacingAndGlyphs" text-anchor="middle" >Week 3</text>
<text x="521.6" y="185.6" font-size="5.20" fill="#dddae6" textLength="17.6" lengthAdjust="spacingAndGlyphs" text-anchor="middle" >Week 5</text>
<text x="583.7" y="185.6" font-size="5.20" fill="#dddae6" textLength="17.6" lengthAdjust="spacingAndGlyphs" text-anchor="middle" >Week 7</text>
<text x="645.9" y="185.6" font-size="5.20" fill="#dddae6" textLength="17.6" lengthAdjust="spacingAndGlyphs" text-anchor="middle" >Week 9</text>
<text x="708.0" y="185.6" font-size="5.20" fill="#dddae6" textLength="20.0" lengthAdjust="spacingAndGlyphs" text-anchor="middle" >Week 11</text>
<rect x="369.7" y="190.3" width="6.9" height="5.5" fill="#ffff26" />
<text x="379.8" y="195.3" font-size="5.20" fill="#fff" textLength="20.0" lengthAdjust="spacingAndGlyphs" font-weight="700" >SESSION</text>
<rect x="412.5" y="190.3" width="6.9" height="5.5" fill="#66cc11" />
<text x="421.6" y="195.3" font-size="5.20" fill="#fff" textLength="33.9" lengthAdjust="spacingAndGlyphs" font-weight="700" >CONVERSIONS</text>
<rect x="467.3" y="190.3" width="6.9" height="5.5" fill="#6b5b00" />
<text x="477.0" y="195.3" font-size="5.20" fill="#fff" textLength="35.6" lengthAdjust="spacingAndGlyphs" font-weight="700" >PREV. SESSION</text>
<rect x="524.3" y="190.3" width="6.9" height="5.5" fill="#2d5208" />
<text x="533.6" y="195.3" font-size="5.20" fill="#fff" textLength="48.2" lengthAdjust="spacingAndGlyphs" font-weight="700" >PREV.CONVERSIONS</text>
<line x1="354.0" y1="199.8" x2="769.0" y2="199.8" stroke="#4d4763" stroke-width="1.00" />
<line x1="562.0" y1="200.0" x2="562.0" y2="391.9" stroke="#4d4763" stroke-width="0.90" />
<line x1="354.0" y1="342.4" x2="562.0" y2="342.4" stroke="#4d4763" stroke-width="0.90" />
<line x1="405.5" y1="342.4" x2="405.5" y2="391.9" stroke="#4d4763" stroke-width="0.90" />
<line x1="475.4" y1="342.4" x2="475.4" y2="391.9" stroke="#4d4763" stroke-width="0.90" />
<text x="359.6" y="212.6" font-size="5.80" fill="#fff" textLength="63.1" lengthAdjust="spacingAndGlyphs" font-weight="700" >SESSIONS BY REGION</text>
<text x="568.0" y="212.6" font-size="5.80" fill="#fff" textLength="56.9" lengthAdjust="spacingAndGlyphs" font-weight="700" >CAMPAIGN HEALTH</text>
<path d="M376.7,254.1L377.8,250.8L380.5,248.6L383.0,247.3L386.5,248.3L391.4,249.4L394.7,249.8L398.5,248.7L402.9,249.6L405.2,251.4L408.4,251.4L412.0,251.4L413.8,250.2L414.7,246.4L416.6,250.2L418.8,249.6L420.2,251.4L418.8,253.6L417.9,255.6L415.6,257.0L414.7,259.2L414.5,260.3L415.6,261.7L417.5,262.1L418.8,263.0L420.2,263.2L420.2,264.7L421.1,265.9L421.6,264.0L422.5,262.1L422.0,260.2L422.0,258.8L422.5,257.2L424.3,257.5L425.6,258.4L425.9,260.1L427.5,260.3L428.2,259.0L429.3,261.3L430.2,262.8L431.6,264.3L432.2,265.4L431.1,266.1L430.2,266.7L427.9,266.7L427.0,267.4L427.9,268.0L428.2,269.0L429.7,269.3L428.8,270.1L427.5,270.7L427.0,269.9L425.6,270.7L425.3,271.7L425.6,272.0L424.1,272.4L423.7,273.1L423.1,273.9L422.9,274.6L423.1,275.3L422.2,275.9L421.3,276.5L420.6,277.3L420.5,278.0L421.0,279.3L421.1,280.2L420.6,280.4L420.2,279.7L419.8,279.0L419.4,278.0L418.6,278.1L417.5,277.9L416.8,278.4L416.1,278.4L414.7,278.3L413.6,278.9L413.2,280.0L413.0,281.6L413.6,283.0L414.5,283.6L415.6,283.4L416.3,282.4L417.5,282.1L417.9,282.5L417.5,283.4L417.2,284.6L418.4,284.7L419.5,284.9L419.5,286.1L419.4,286.8L420.0,287.5L421.1,287.5L421.6,287.4L422.3,287.9L422.1,288.4L421.1,288.3L420.4,288.1L419.7,287.9L418.8,287.2L418.4,286.5L417.7,285.9L416.6,285.6L415.4,285.1L414.5,284.5L413.4,284.6L412.0,284.1L410.4,283.4L409.5,282.7L409.5,281.6L408.4,280.5L407.7,279.6L406.5,278.5L406.1,277.4L405.3,277.3L405.6,278.3L406.5,279.5L407.4,280.9L407.7,281.4L406.5,280.5L405.6,279.3L404.9,278.0L404.2,276.7L403.6,276.0L402.6,275.7L401.8,274.6L401.5,274.0L400.7,272.6L400.6,271.1L400.7,269.2L400.3,267.8L401.3,267.4L400.2,266.7L398.6,266.1L397.4,264.0L396.3,262.5L394.7,260.5L393.1,259.7L391.4,259.2L389.2,259.0L387.6,259.2L385.7,259.8L385.4,258.4L384.3,260.1L382.7,261.3L381.1,262.7L378.9,263.4L380.0,262.5L382.2,260.9L380.5,260.3L378.9,259.2L378.1,257.5L380.0,256.1L380.5,255.1L377.8,255.1ZM417.0,244.5L420.6,243.7L422.9,245.4L425.6,248.0L427.0,250.2L429.3,252.7L428.6,255.1L427.7,256.7L426.3,257.0L425.2,255.8L423.8,255.1L422.0,255.1L422.5,253.6L424.3,251.9L422.5,250.2L420.2,249.0L418.4,248.3L417.0,247.0ZM404.0,249.0L406.5,250.6L409.7,250.2L411.3,249.2L411.1,247.0L409.7,244.9L407.4,244.9L405.2,244.5L403.8,245.9ZM400.2,246.4L401.3,247.4L403.4,246.4L404.3,244.2L403.4,243.0L401.3,243.0L399.9,244.5ZM415.6,229.2L418.8,224.7L423.4,222.7L427.9,224.1L429.3,227.8L426.6,230.5L424.7,234.2L422.5,237.3L421.1,239.6L417.5,239.2L417.0,236.3L418.4,233.0L416.1,231.1ZM415.6,242.3L418.4,242.8L421.1,242.5L421.1,240.6L418.4,239.6L415.6,239.2L413.8,240.1ZM404.3,241.5L407.4,242.6L409.3,241.5L409.3,239.8L406.5,239.2L404.3,239.8ZM411.1,244.9L413.4,246.6L415.2,245.9L416.3,243.7L414.3,243.1L412.0,243.4ZM413.8,236.3L416.6,235.3L417.9,231.8L415.6,229.2L413.8,231.8ZM417.9,254.1L419.3,254.1L420.6,255.6L419.5,256.7L417.9,255.9ZM430.5,268.2L432.0,268.8L433.4,268.9L433.5,267.7L432.2,266.4L431.6,265.9L430.9,267.4ZM418.9,281.9L420.2,281.3L421.3,281.5L422.5,282.2L423.7,282.7L422.2,282.8L421.8,282.3L420.2,281.9ZM423.6,282.9L424.9,282.9L426.1,283.1L426.4,283.4L425.2,283.7L423.7,283.5ZM424.5,235.3L427.5,231.1L430.2,226.3L434.8,225.1L439.3,223.0L443.9,222.7L448.4,225.4L452.0,228.4L451.6,233.0L449.8,237.3L448.9,241.8L447.9,245.7L447.0,248.3L445.2,250.8L442.5,252.2L440.2,253.9L438.8,256.1L437.7,259.1L436.6,258.6L435.2,257.5L434.1,255.1L433.2,251.9L432.9,249.0L432.0,245.7L430.9,241.0L427.5,239.8L425.4,238.3ZM446.4,254.0L447.5,253.1L449.3,253.3L450.8,253.6L451.3,254.6L450.2,255.6L448.9,256.2L447.3,255.7L446.6,254.8ZM422.3,287.9L423.1,286.9L424.3,286.6L424.9,286.2L425.6,286.5L426.6,286.9L428.2,287.0L429.3,286.9L430.2,287.9L431.6,288.9L432.9,289.0L434.1,289.6L434.8,291.1L435.2,291.7L436.1,291.8L437.5,292.6L439.3,292.7L440.7,293.6L441.6,294.1L441.7,294.9L440.9,296.0L440.0,297.1L439.8,298.7L439.3,300.2L438.6,301.4L437.3,301.7L435.7,302.8L435.3,304.2L434.3,305.5L433.2,307.0L431.8,307.4L430.9,307.0L431.6,308.3L431.1,309.4L429.3,309.6L429.1,310.8L427.9,310.8L428.4,311.9L427.7,313.1L426.8,314.0L427.5,315.0L426.3,316.6L426.1,317.8L426.6,318.7L427.7,319.6L426.3,320.2L424.7,319.0L423.6,317.6L423.1,315.0L423.8,312.8L424.1,310.8L424.1,308.8L424.7,306.7L425.0,305.0L425.4,303.0L425.5,300.7L425.4,299.5L424.3,298.7L422.9,297.5L422.2,296.5L421.6,295.1L420.7,294.1L420.5,293.4L421.1,292.8L420.7,291.9L421.1,291.2L421.6,290.7L422.2,289.8L422.2,288.7L422.1,288.4ZM454.8,275.1L456.6,275.4L458.9,274.6L461.1,274.5L462.1,274.3L462.5,275.5L462.2,276.1L463.0,276.6L464.5,276.9L465.7,277.8L466.6,277.5L467.1,276.6L468.9,277.2L470.7,277.5L472.1,277.4L473.1,277.4L472.3,278.1L473.0,279.3L473.7,280.9L474.3,282.3L474.6,283.4L475.4,284.8L476.4,285.8L477.2,286.3L477.2,286.6L478.0,287.0L479.3,286.7L480.8,286.4L480.6,287.2L479.8,288.7L479.1,289.8L477.5,291.0L476.4,292.3L475.7,293.2L475.2,294.3L475.5,295.8L475.9,296.9L475.9,298.2L474.6,299.1L473.4,300.2L473.6,302.0L472.4,303.0L472.4,304.2L471.4,305.5L470.0,306.7L468.4,307.0L466.6,307.4L465.8,307.0L465.7,306.0L465.0,304.2L464.3,303.0L464.1,301.4L463.2,299.3L462.9,298.0L463.6,296.7L463.6,295.4L463.1,294.1L462.7,293.2L461.8,292.4L461.7,291.1L461.9,290.0L461.4,289.6L460.2,289.7L459.5,288.8L458.2,288.9L456.6,289.4L455.5,289.3L454.1,289.6L453.4,289.4L452.3,288.5L451.5,287.7L450.7,286.9L449.9,286.1L449.5,285.1L450.0,284.3L450.1,283.1L449.8,282.3L450.2,281.1L450.9,280.0L451.6,279.1L452.9,278.3L453.1,277.3L453.9,276.4L454.5,275.8ZM479.9,296.7L480.4,298.2L480.0,299.1L479.6,300.7L479.0,302.5L478.0,302.8L477.4,301.8L477.2,300.9L477.7,300.0L477.5,298.9L478.4,298.3L479.3,297.3ZM453.4,274.4L453.2,273.5L453.5,272.0L453.3,271.0L454.8,270.7L456.7,270.9L457.0,269.3L456.2,268.4L455.4,267.8L456.8,267.6L456.8,266.9L457.6,267.0L458.2,266.2L459.1,265.8L459.6,264.7L460.7,264.2L461.5,264.0L461.4,261.7L462.3,261.1L462.2,262.5L462.4,263.7L463.2,263.7L464.0,264.0L465.7,263.4L466.5,263.7L467.1,262.8L467.1,261.7L468.4,261.5L468.2,259.9L470.2,259.6L471.1,259.2L470.5,258.7L468.9,259.1L467.7,259.3L467.2,258.4L467.3,256.5L468.9,254.6L468.4,253.8L467.5,254.1L467.2,255.1L465.5,257.0L465.3,258.6L466.1,259.5L465.1,260.5L465.0,262.1L464.0,262.8L463.4,262.8L462.6,260.2L462.3,259.8L461.1,260.8L460.0,260.1L459.8,258.4L459.9,257.3L461.4,256.1L462.5,254.8L463.4,253.0L464.3,251.0L465.7,249.6L467.5,248.6L469.2,247.6L470.5,247.8L471.6,248.6L472.5,249.7L473.9,250.0L475.9,251.6L476.2,252.8L474.8,253.3L472.7,252.8L473.3,254.6L474.3,255.6L475.7,254.9L475.9,253.7L477.5,253.2L477.6,251.0L478.4,251.4L479.3,251.7L481.6,250.8L483.4,250.7L485.0,249.6L487.5,250.2L488.4,247.7L488.9,244.9L490.7,244.9L491.6,245.9L493.0,246.1L494.1,244.2L496.6,243.4L497.1,241.5L500.7,240.1L503.0,239.2L505.0,236.9L506.2,238.3L508.5,239.2L509.1,243.4L507.6,243.7L508.9,244.2L511.2,244.6L513.5,244.2L515.3,245.7L516.4,247.7L518.0,247.0L519.8,247.0L521.2,245.5L523.5,245.9L525.8,247.0L527.1,247.8L529.8,249.0L530.5,249.6L532.6,249.6L534.9,249.1L535.3,250.2L537.6,249.2L539.4,250.3L541.2,251.9L544.1,253.5L542.1,255.2L539.9,254.3L538.7,255.1L539.2,257.0L538.0,256.9L536.2,258.4L535.1,259.2L533.3,259.2L532.1,259.3L531.7,260.9L531.8,262.3L531.2,263.4L530.3,264.5L529.6,264.8L528.8,266.1L528.3,264.7L528.3,262.5L528.8,261.1L530.3,258.8L531.0,257.9L532.1,257.2L530.5,257.7L528.9,257.8L528.0,259.7L526.4,259.8L525.3,259.6L523.5,259.8L522.1,260.1L520.5,261.7L519.2,263.2L519.8,264.1L521.4,264.5L521.8,265.2L521.4,266.7L521.3,268.0L520.4,269.1L519.2,270.5L517.8,271.1L517.0,271.5L516.5,272.0L515.5,272.9L516.3,274.3L516.4,275.2L516.0,275.6L515.1,275.8L515.0,274.6L514.4,274.1L514.5,273.1L514.0,272.9L513.0,273.3L512.8,272.4L511.6,273.3L511.1,273.6L511.6,274.2L513.1,274.2L512.2,275.0L511.8,275.6L512.5,276.7L512.9,277.5L512.9,278.5L512.1,279.7L511.4,280.6L510.5,281.4L509.2,281.7L507.8,282.2L507.5,282.6L506.7,282.0L506.0,282.9L505.6,283.3L506.3,284.2L507.1,285.2L507.2,286.3L506.2,287.0L505.3,287.6L505.2,287.1L504.4,286.7L504.0,286.2L503.4,285.8L503.0,286.1L502.7,287.0L503.1,287.9L503.7,288.6L504.5,289.6L504.9,290.9L504.0,290.5L503.3,289.7L503.1,288.9L502.3,288.1L502.4,287.0L502.2,286.1L502.0,284.7L501.2,284.3L500.5,284.5L500.5,283.5L499.5,282.4L499.3,281.7L498.4,281.9L497.8,281.9L497.1,282.2L496.9,282.8L496.2,283.0L494.9,284.3L494.0,284.8L494.0,285.8L493.8,287.1L493.0,287.9L492.8,288.0L492.2,287.3L491.8,286.3L491.4,285.2L490.9,284.3L490.6,283.1L490.6,282.2L489.6,282.4L488.9,281.7L488.2,281.0L488.0,280.5L486.8,280.3L485.5,280.4L484.3,280.2L483.5,279.6L483.1,279.5L482.3,279.7L481.4,279.3L480.6,278.6L480.2,277.9L479.7,277.9L479.3,278.1L479.6,278.9L480.2,279.6L480.5,280.3L481.0,280.0L480.8,280.7L481.4,280.8L482.1,280.8L483.0,280.0L483.2,280.7L484.1,281.1L484.7,281.6L484.1,282.6L483.8,283.2L482.6,283.9L481.3,284.6L479.8,285.3L478.0,286.0L477.3,286.0L476.9,285.0L476.6,284.1L475.9,283.0L475.2,282.1L475.0,281.0L474.4,280.2L473.5,279.0L473.3,278.3L473.1,277.4L473.4,276.5L473.8,275.5L473.9,274.6L472.5,274.9L471.4,274.7L470.2,274.6L469.9,274.3L469.5,273.6L469.6,273.1L469.4,272.7L470.7,272.2L471.8,272.1L473.4,271.7L474.3,272.1L475.5,272.2L476.4,271.9L476.4,271.2L475.2,270.4L474.5,269.8L475.0,269.0L474.6,268.7L473.4,269.2L474.1,269.7L472.7,270.2L472.4,269.5L471.6,268.9L471.0,269.7L470.6,270.5L470.2,271.7L470.6,272.1L469.6,272.5L468.4,272.4L468.2,272.7L468.4,273.1L467.9,273.1L468.2,273.8L468.4,274.0L468.0,274.7L467.4,274.6L467.1,273.7L466.4,272.6L466.4,271.8L465.5,271.1L464.5,270.2L463.8,269.5L463.1,269.7L463.2,270.5L463.7,270.9L464.6,271.7L464.9,271.8L465.9,272.7L465.2,272.6L465.0,273.1L465.2,273.4L464.8,273.9L464.6,273.9L464.8,273.1L464.3,272.7L463.9,272.4L463.1,271.8L462.3,271.1L462.1,270.5L461.5,270.3L460.9,270.6L460.0,271.0L459.3,270.8L458.9,271.4L459.0,271.8L457.9,272.2L457.4,273.1L457.6,273.5L457.2,274.1L456.6,274.6L455.5,274.6L455.0,274.9L454.6,274.6L454.1,274.3ZM454.9,266.7L455.9,266.5L457.0,266.3L458.1,265.9L458.3,264.9L457.6,264.7L457.4,263.8L456.8,263.1L456.6,262.5L456.4,261.2L456.7,261.2L455.9,260.4L455.2,260.4L454.9,261.3L455.0,262.5L455.3,263.4L456.0,263.4L456.1,264.3L455.5,264.5L455.6,265.2L455.1,265.5L456.0,265.8L455.5,266.1ZM452.9,265.6L453.9,265.7L454.7,265.2L454.8,264.1L455.0,263.4L454.5,263.1L453.8,263.1L452.9,263.8L453.0,264.5L452.8,265.2ZM462.5,233.0L463.9,231.8L466.6,231.1L468.9,231.1L469.8,233.0L467.5,235.3L465.7,238.3L464.3,238.8L463.6,236.3ZM481.2,247.3L482.8,248.2L483.7,248.1L483.0,245.7L483.2,243.4L485.3,240.6L488.7,238.5L487.5,238.3L483.9,240.1L482.8,241.8L481.6,244.9L480.9,246.4ZM478.9,230.5L481.6,231.8L484.8,231.1L486.2,229.2L483.9,227.2L480.2,229.2ZM500.7,234.2L503.0,236.3L505.3,235.3L504.4,232.3L502.1,229.2L499.8,230.5ZM519.8,241.0L521.7,243.6L523.5,242.2L525.8,241.8L524.8,239.8L521.2,240.1ZM538.7,247.0L540.3,247.4L540.3,248.0L538.9,248.0ZM522.1,263.7L522.7,265.0L522.8,266.7L522.6,268.7L522.1,269.3L522.1,267.7L522.0,265.7ZM521.2,272.0L521.9,271.4L522.7,271.7L523.7,270.9L523.2,270.5L522.1,269.7L521.8,270.9L521.3,271.2ZM516.6,276.5L516.9,277.4L517.3,277.3L517.6,276.5L518.0,276.2L518.8,276.1L519.3,276.3L519.8,275.9L520.7,275.7L521.2,275.5L521.6,275.1L521.7,273.9L522.1,272.9L521.8,272.1L521.3,272.4L521.1,273.1L520.5,274.2L519.8,274.3L519.4,275.1L518.0,275.2L517.1,275.8L516.6,276.1ZM512.2,281.4L512.6,280.4L513.0,280.5L512.8,281.4L512.5,281.9ZM507.0,283.1L507.6,282.7L508.0,282.9L507.6,283.5L507.0,283.4ZM512.2,284.6L512.5,283.4L513.1,283.4L513.1,284.6L512.8,285.4L513.9,286.0L513.8,286.1L513.0,285.7L512.4,285.4ZM513.0,288.5L513.7,287.8L514.6,287.3L515.1,288.3L514.6,289.0L513.9,288.7ZM513.0,287.0L513.7,286.5L514.6,286.6L514.4,287.2L513.5,287.5ZM507.1,290.9L507.8,290.7L508.2,290.3L508.9,290.1L509.8,289.4L510.6,288.5L511.4,289.1L511.1,289.8L511.2,290.6L511.0,291.3L510.5,292.1L510.3,293.1L509.6,293.2L508.9,292.9L508.2,292.9L507.6,292.1L507.1,291.5ZM500.9,289.1L501.9,289.3L503.2,290.4L504.6,291.5L505.0,292.4L505.7,292.9L505.6,294.0L505.0,294.0L503.9,293.2L503.2,292.1L502.4,290.9L501.6,290.1ZM505.4,294.4L506.0,294.1L506.9,294.3L508.0,294.3L508.8,294.5L509.6,294.8L509.6,295.2L508.0,295.1L506.6,294.8L505.9,294.7ZM509.8,295.0L510.7,295.1L511.6,295.1L512.6,295.1L513.5,295.1L513.5,295.3L511.9,295.5L510.3,295.4ZM513.7,295.9L514.4,295.5L515.3,295.1L515.1,295.5L514.1,295.9ZM511.9,293.9L512.0,293.0L511.6,292.6L512.0,291.3L512.6,290.9L513.5,291.1L514.4,290.9L514.1,291.3L512.8,291.3L512.2,291.8L512.8,292.3L513.5,291.9L513.2,292.6L512.8,292.4L513.2,293.4L512.8,293.6L512.3,292.8L512.3,293.9ZM515.5,290.6L516.0,290.9L515.9,291.7L515.5,291.3ZM517.1,291.8L517.8,291.7L518.5,291.8L518.9,292.9L520.1,292.2L521.7,292.6L523.2,293.1L524.4,294.0L524.7,294.4L524.5,294.7L526.0,295.9L524.8,295.9L523.9,295.1L523.0,294.8L522.6,295.5L521.7,295.4L520.7,294.9L520.3,295.1L520.5,294.4L520.1,293.7L518.9,293.4L518.0,293.2L517.9,292.7L517.2,292.1ZM525.1,293.9L526.2,293.6L526.8,293.3L526.7,293.9L525.8,294.2ZM509.1,301.1L509.5,303.0L509.0,303.1L509.8,305.0L510.1,306.0L509.8,307.1L511.1,307.5L512.1,306.9L513.7,306.9L514.8,306.1L516.2,305.8L517.2,305.7L518.5,306.3L519.2,307.4L520.1,306.5L520.2,307.8L521.0,307.9L521.4,309.1L522.8,309.5L524.1,309.7L524.8,309.0L525.8,308.7L526.2,307.0L527.0,305.7L527.3,304.1L527.1,302.8L526.2,301.8L525.5,301.3L525.0,300.2L524.1,299.7L523.8,298.7L523.6,297.9L522.8,297.7L522.3,296.1L522.0,297.0L521.9,298.0L521.6,299.1L520.7,299.1L520.1,298.4L519.2,298.0L519.4,297.3L519.7,296.8L518.9,296.8L517.8,296.4L517.1,296.8L516.6,297.3L516.4,297.9L515.7,297.9L515.3,297.5L514.6,297.8L513.9,298.6L513.1,299.0L513.1,299.4L512.6,300.0L511.6,300.2L510.6,300.5L509.6,301.1ZM523.3,310.6L524.2,310.8L525.0,310.7L524.8,311.6L524.4,312.2L523.8,312.1L523.6,311.3ZM536.1,307.2L536.7,307.8L537.0,308.4L537.5,308.4L537.7,308.9L538.7,308.9L538.1,309.8L538.0,310.5L537.3,311.1L537.0,310.7L537.2,310.2L536.6,309.8L536.9,309.2L536.9,308.5L536.2,307.6ZM536.1,310.5L536.8,310.9L536.4,311.9L536.1,312.4L535.4,312.7L535.2,313.6L534.6,314.1L534.1,314.1L533.3,313.7L533.4,313.1L534.2,312.5L535.1,311.8L535.5,311.2L535.9,310.6ZM493.8,287.3L494.0,287.3L494.7,288.3L494.6,288.8L494.0,289.0L493.8,288.3ZM463.2,273.9L464.6,273.7L464.4,274.6L463.2,274.1ZM461.2,272.2L461.9,272.2L461.9,273.3L461.4,273.4ZM461.4,271.2L461.8,271.1L461.8,272.0L461.5,271.8ZM468.2,275.2L469.5,275.4L468.4,275.6ZM472.2,275.5L473.2,275.1L473.0,275.6L472.5,275.7Z" fill="#838288" stroke="#838288" stroke-width="0.7" stroke-linejoin="round"/>
<path d="M478.7,270.2L479.8,269.0L480.9,268.7L481.6,269.0L480.7,269.9L480.4,270.3L480.9,271.0L481.5,272.0L482.0,273.4L482.1,274.3L480.9,274.6L480.0,274.2L479.8,273.1L480.2,272.5L479.6,271.7L479.1,271.1Z" fill="#241a3c"/>
<circle cx="404.8" cy="277.0" r="2.6" fill="#ffee22"/>
<circle cx="424.5" cy="273.4" r="2.5" fill="#ffee22"/>
<circle cx="413.3" cy="284.0" r="2.0" fill="#ffee22"/>
<circle cx="436.6" cy="302.5" r="0.8" fill="#ffee22"/>
<circle cx="457.4" cy="267.0" r="3.0" fill="#ffee22"/>
<circle cx="463.4" cy="266.2" r="2.3" fill="#ffee22"/>
<circle cx="468.3" cy="272.5" r="2.0" fill="#ffee22"/>
<circle cx="474.7" cy="264.0" r="0.5" fill="#ffee22"/>
<circle cx="514.4" cy="275.4" r="2.6" fill="#ffee22"/>
<circle cx="520.0" cy="276.5" r="1.5" fill="#ffee22"/>
<circle cx="511.8" cy="278.6" r="1.0" fill="#ffee22"/>
<circle cx="491.9" cy="279.7" r="1.2" fill="#ffee22"/>
<circle cx="490.6" cy="284.4" r="1.7" fill="#ffee22"/>
<circle cx="525.0" cy="307.2" r="3.0" fill="#ffee22"/>
<circle cx="480.8" cy="278.6" r="0.5" fill="#ffee22"/>
<rect x="359.8" y="327" width="40.5" height="7.6" rx="3.8" fill="none" stroke="#b4b0c2" stroke-width="0.7"/>
<text x="380.0" y="332.6" font-size="4.80" fill="#e0dcea" textLength="12.5" lengthAdjust="spacingAndGlyphs" text-anchor="middle" font-family="DejaVu Sans Light, DejaVu Sans, sans-serif" font-weight="200">PLAY</text>
<text x="414.8" y="332.4" font-size="4.30" fill="#e6e4ee" textLength="14.9" lengthAdjust="spacingAndGlyphs" font-weight="700" >START</text>
<line x1="435.5" y1="330.8" x2="519.0" y2="330.8" stroke="#77728a" stroke-width="0.80" />
<text x="524.9" y="332.4" font-size="4.30" fill="#e6e4ee" textLength="9.6" lengthAdjust="spacingAndGlyphs" font-weight="700" >END</text>
<text x="359.8" y="354.9" font-size="4.90" fill="#fff" textLength="18.0" lengthAdjust="spacingAndGlyphs" font-weight="700" >USERS</text>
<text x="359.6" y="368.0" font-size="15.20" fill="#e9e8ee" textLength="35.2" lengthAdjust="spacingAndGlyphs" font-weight="700" letter-spacing="-0.9">87.2K</text>
<text x="411.9" y="354.9" font-size="4.90" fill="#fff" textLength="53.3" lengthAdjust="spacingAndGlyphs" font-weight="700" >CONVERSION RATE</text>
<text x="411.7" y="368.0" font-size="15.20" fill="#e9e8ee" textLength="30.9" lengthAdjust="spacingAndGlyphs" font-weight="700" letter-spacing="-0.9">2.0%</text>
<text x="481.2" y="354.9" font-size="4.90" fill="#fff" textLength="30.6" lengthAdjust="spacingAndGlyphs" font-weight="700" >TOP PAGES</text>
<text x="482.0" y="363.2" font-size="4.70" fill="#f2f0f8" textLength="54.5" lengthAdjust="spacingAndGlyphs" >marketing-projects-with-roi</text>
<text x="482.0" y="370.3" font-size="4.70" fill="#f2f0f8" textLength="26.9" lengthAdjust="spacingAndGlyphs" >ceo-interview</text>
<text x="482.0" y="377.6" font-size="4.70" fill="#f2f0f8" textLength="45.8" lengthAdjust="spacingAndGlyphs" >the-pointy-haired-boss</text>
<text x="482.0" y="384.4" font-size="4.70" fill="#f2f0f8" textLength="45.2" lengthAdjust="spacingAndGlyphs" >how-we-can-do-better</text>
<g transform="translate(0,269.5) scale(1,0.953) translate(0,-269.5)"><path d="M612.00,233.40 A36.10,36.10 0 0 1 647.65,263.79 L633.13,266.12 A21.40,21.40 0 0 0 612.00,248.10 Z" fill="#ffbf08"/><path d="M647.65,263.79 A36.10,36.10 0 0 1 644.98,284.18 L631.55,278.20 A21.40,21.40 0 0 0 633.13,266.12 Z" fill="#3aa6b0"/><path d="M644.98,284.18 A36.10,36.10 0 0 1 631.66,299.78 L623.66,287.45 A21.40,21.40 0 0 0 631.55,278.20 Z" fill="#ff6a00"/><path d="M631.66,299.78 A36.10,36.10 0 1 1 612.00,233.40 L612.00,248.10 A21.40,21.40 0 1 0 623.66,287.45 Z" fill="#f0f0f0"/><path d="M612.00,250.10 A19.40,19.40 0 0 1 629.58,277.70 L617.62,272.12 A6.20,6.20 0 0 0 612.00,263.30 Z" fill="#5e4528"/><path d="M629.58,277.70 A19.40,19.40 0 0 1 620.81,286.79 L614.81,275.02 A6.20,6.20 0 0 0 617.62,272.12 Z" fill="#2b3f5e"/><path d="M620.81,286.79 A19.40,19.40 0 0 1 610.98,288.87 L611.68,275.69 A6.20,6.20 0 0 0 614.81,275.02 Z" fill="#632d2a"/><path d="M610.98,288.87 A19.40,19.40 0 0 1 612.00,250.10 L612.00,263.30 A6.20,6.20 0 0 0 611.68,275.69 Z" fill="#5a5470"/></g>
<text x="672.3" y="248.8" font-size="4.50" fill="#fff" textLength="34.4" lengthAdjust="spacingAndGlyphs" font-weight="700" >CONVERSIONS</text>
<text x="672.9" y="266.8" font-size="22.40" fill="#b4b2ba" textLength="28.6" lengthAdjust="spacingAndGlyphs" font-weight="700" letter-spacing="-1.4">5%</text>
<text x="702.9" y="257.1" font-size="4.60" fill="#fff" textLength="37.8" lengthAdjust="spacingAndGlyphs" font-weight="700" >1,672 PREVIOUS</text>
<text x="702.9" y="263.6" font-size="4.6" font-weight="700" textLength="36.4" lengthAdjust="spacingAndGlyphs"><tspan fill="#5fc41a">1,760</tspan><tspan fill="#fff"> CURRENT</tspan></text>
<rect x="668.2" y="277.6" width="2.7" height="2.7" fill="#ffc20e" />
<text x="673.0" y="280.5" font-size="4.40" fill="#fff" textLength="9.7" lengthAdjust="spacingAndGlyphs" font-weight="700" >PPC</text>
<rect x="713.5" y="277.6" width="2.7" height="2.7" fill="#2fa8b8" />
<text x="718.3" y="280.5" font-size="4.40" fill="#fff" textLength="18.1" lengthAdjust="spacingAndGlyphs" font-weight="700" >Banners</text>
<rect x="668.2" y="284.6" width="2.7" height="2.7" fill="#ff6a00" />
<text x="673.0" y="287.5" font-size="4.40" fill="#fff" textLength="12.3" lengthAdjust="spacingAndGlyphs" font-weight="700" >Email</text>
<rect x="713.5" y="284.6" width="2.7" height="2.7" fill="#f2f2f2" />
<text x="718.3" y="287.5" font-size="4.40" fill="#fff" textLength="19.7" lengthAdjust="spacingAndGlyphs" font-weight="700" >3rd Party</text>
<text x="572.4" y="328.5" font-size="3.90" fill="#fff" textLength="29.3" lengthAdjust="spacingAndGlyphs" font-weight="700" >CONVERSIONS</text>
<text x="612.6" y="328.5" font-size="3.90" fill="#fff" textLength="15.9" lengthAdjust="spacingAndGlyphs" font-weight="700" >TARGET</text>
<rect x="572.3" y="329.2" width="82.1" height="11.1" fill="#5e4528" />
<rect x="572.3" y="340.3" width="82.1" height="11.1" fill="#4a2f3a" />
<rect x="572.3" y="329.2" width="17.7" height="11.1" fill="#ffc20e" />
<rect x="572.3" y="340.3" width="28.7" height="11.1" fill="#8f6b00" />
<line x1="613.6" y1="330.8" x2="613.6" y2="338.7" stroke="#16121f" stroke-width="0.80" />
<line x1="613.6" y1="341.9" x2="613.6" y2="349.8" stroke="#16121f" stroke-width="0.80" />
<text x="576.0" y="336.6" font-size="5.40" fill="#4a3208" font-weight="700" >387</text>
<text x="576.0" y="347.8" font-size="5.40" fill="#eadfbe" font-weight="700" >585</text>
<text x="650.2" y="336.6" font-size="5.40" fill="#3a2c1c" font-weight="700" text-anchor="end" >44%</text>
<text x="650.2" y="347.8" font-size="5.40" fill="#fff" font-weight="700" text-anchor="end" >70%</text>
<rect x="572.3" y="355.4" width="82.1" height="11.3" fill="#632d2a" />
<rect x="572.3" y="366.7" width="82.1" height="11.5" fill="#47263a" />
<rect x="572.3" y="355.4" width="7.7" height="11.3" fill="#ff6a00" />
<rect x="572.3" y="366.7" width="6.6" height="11.5" fill="#7a3010" />
<line x1="613.6" y1="357.0" x2="613.6" y2="365.1" stroke="#16121f" stroke-width="0.80" />
<line x1="613.6" y1="368.3" x2="613.6" y2="376.6" stroke="#16121f" stroke-width="0.80" />
<text x="576.0" y="362.9" font-size="5.40" fill="#fff" font-weight="700" >172</text>
<text x="576.0" y="374.3" font-size="5.40" fill="#fff" font-weight="700" >136</text>
<text x="650.2" y="362.9" font-size="5.40" fill="#fff" font-weight="700" text-anchor="end" >20%</text>
<text x="650.2" y="374.3" font-size="5.40" fill="#fff" font-weight="700" text-anchor="end" >16%</text>
<rect x="675.3" y="329.0" width="82.7" height="10.8" fill="#2b3c60" />
<rect x="675.3" y="339.8" width="82.7" height="11.8" fill="#2a2b55" />
<rect x="675.3" y="329.0" width="7.2" height="10.8" fill="#2fa8b8" />
<rect x="675.3" y="339.8" width="6.2" height="11.8" fill="#1d6672" />
<line x1="716.5" y1="330.6" x2="716.5" y2="338.2" stroke="#16121f" stroke-width="0.80" />
<line x1="716.5" y1="341.4" x2="716.5" y2="350.0" stroke="#16121f" stroke-width="0.80" />
<text x="679.0" y="336.3" font-size="5.40" fill="#fff" font-weight="700" >172</text>
<text x="679.0" y="347.6" font-size="5.40" fill="#fff" font-weight="700" >136</text>
<text x="753.8" y="336.3" font-size="5.40" fill="#fff" font-weight="700" text-anchor="end" >20%</text>
<text x="753.8" y="347.6" font-size="5.40" fill="#fff" font-weight="700" text-anchor="end" >16%</text>
<rect x="675.3" y="355.5" width="82.7" height="10.8" fill="#5d5476" />
<rect x="675.3" y="366.3" width="82.7" height="11.8" fill="#4b4268" />
<rect x="675.3" y="355.5" width="48.9" height="10.8" fill="#f2f2f2" />
<rect x="675.3" y="366.3" width="40.5" height="11.8" fill="#8a8a8a" />
<line x1="716.5" y1="357.1" x2="716.5" y2="364.7" stroke="#16121f" stroke-width="0.80" />
<line x1="716.5" y1="367.9" x2="716.5" y2="376.5" stroke="#16121f" stroke-width="0.80" />
<text x="679.0" y="362.8" font-size="5.40" fill="#1c1430" font-weight="700" >1.0K</text>
<text x="679.0" y="374.1" font-size="5.40" fill="#e2e2e2" font-weight="700" >815</text>
<text x="753.8" y="362.8" font-size="5.40" fill="#2a2142" font-weight="700" text-anchor="end" >117%</text>
<text x="753.8" y="374.1" font-size="5.40" fill="#fff" font-weight="700" text-anchor="end" >97%</text>
<line x1="769.0" y1="119.0" x2="790.0" y2="119.0" stroke="#56516a" stroke-width="0.60" stroke-dasharray="0.8 0.8"/><line x1="769.0" y1="165.0" x2="790.0" y2="165.0" stroke="#56516a" stroke-width="0.60" stroke-dasharray="0.8 0.8"/><line x1="769.0" y1="210.0" x2="790.0" y2="210.0" stroke="#56516a" stroke-width="0.60" stroke-dasharray="0.8 0.8"/><line x1="769.0" y1="256.0" x2="790.0" y2="256.0" stroke="#56516a" stroke-width="0.60" stroke-dasharray="0.8 0.8"/><text x="787.4" y="84.0" font-size="4.60" fill="#fff" font-weight="700" opacity="0.85">R</text><text x="787.4" y="91.5" font-size="4.60" fill="#ccc" font-weight="700" opacity="0.85">4</text><text x="787.4" y="105.5" font-size="4.60" fill="#ddd" font-weight="700" opacity="0.85">S</text><text x="787.4" y="111.5" font-size="4.60" fill="#5fc41a" font-weight="700" opacity="0.85">6</text><text x="787.4" y="129.5" font-size="4.60" fill="#fff" font-weight="700" opacity="0.85">B</text><text x="787.4" y="150.5" font-size="4.60" fill="#ccc" font-weight="700" opacity="0.85">4</text><text x="787.4" y="157.5" font-size="4.60" fill="#fa5010" font-weight="700" opacity="0.85">3</text><text x="787.4" y="175.5" font-size="4.60" fill="#fff" font-weight="700" opacity="0.85">C</text><text x="787.4" y="196.5" font-size="4.60" fill="#ccc" font-weight="700" opacity="0.85">5</text><text x="787.4" y="202.5" font-size="4.60" fill="#fa5010" font-weight="700" opacity="0.85">3</text><text x="787.4" y="221.5" font-size="4.60" fill="#fff" font-weight="700" opacity="0.85">S</text><text x="787.4" y="242.5" font-size="4.60" fill="#ccc" font-weight="700" opacity="0.85">3</text><text x="787.4" y="248.5" font-size="4.60" fill="#5fc41a" font-weight="700" opacity="0.85">4</text><path d="M786.5,139.5 l4,-3.4 l0,3.4z" fill="#b8b5c4"/><path d="M786.5,185.5 l4,-3.4 l0,3.4z" fill="#b8b5c4"/><path d="M786.5,231.5 l4,-3.4 l0,3.4z" fill="#b8b5c4"/><path d="M786.5,191.0 l4,0 l0,3.2z" fill="#b8b5c4"/><path d="M786.5,237.0 l4,0 l0,3.2z" fill="#b8b5c4"/><text x="774.8" y="267.5" font-size="4.20" fill="#c9c6d6" >TOP USERS</text><text x="777.6" y="275.4" font-size="3.60" fill="#fff" font-weight="700" text-anchor="end" >1.</text><text x="779.0" y="275.4" font-size="3.60" fill="#fff" font-weight="700" >MARKETING</text><text x="777.6" y="280.0" font-size="3.60" fill="#8f8ba2" text-anchor="end" >1.</text><text x="779.0" y="280.0" font-size="3.60" fill="#8f8ba2" >SERVICES</text><text x="777.6" y="284.6" font-size="3.60" fill="#fff" font-weight="700" text-anchor="end" >2.</text><text x="779.0" y="284.6" font-size="3.60" fill="#fff" font-weight="700" >SHOPPING</text><text x="777.6" y="289.1" font-size="3.60" fill="#8f8ba2" text-anchor="end" >2.</text><text x="779.0" y="289.1" font-size="3.60" fill="#8f8ba2" >FOOD</text><text x="777.6" y="293.7" font-size="3.60" fill="#fff" font-weight="700" text-anchor="end" >3.</text><text x="779.0" y="293.7" font-size="3.60" fill="#fff" font-weight="700" >TECHNOLOGY</text><text x="777.6" y="298.3" font-size="3.60" fill="#8f8ba2" text-anchor="end" >3.</text><text x="779.0" y="298.3" font-size="3.60" fill="#8f8ba2" >MANUFACTURING</text><text x="777.6" y="302.9" font-size="3.60" fill="#fff" font-weight="700" text-anchor="end" >4.</text><text x="779.0" y="302.9" font-size="3.60" fill="#fff" font-weight="700" >ONLINE</text><text x="777.6" y="307.5" font-size="3.60" fill="#8f8ba2" text-anchor="end" >4.</text><text x="779.0" y="307.5" font-size="3.60" fill="#8f8ba2" >SPACE</text><text x="777.6" y="312.0" font-size="3.60" fill="#fff" font-weight="700" text-anchor="end" >5.</text><text x="779.0" y="312.0" font-size="3.60" fill="#fff" font-weight="700" >OFFICE</text><text x="777.6" y="316.6" font-size="3.60" fill="#8f8ba2" text-anchor="end" >5.</text><text x="779.0" y="316.6" font-size="3.60" fill="#8f8ba2" >OFFLINE</text><text x="777.6" y="321.2" font-size="3.60" fill="#fff" font-weight="700" text-anchor="end" >6.</text><text x="779.0" y="321.2" font-size="3.60" fill="#fff" font-weight="700" >WEB</text><text x="777.6" y="325.8" font-size="3.60" fill="#8f8ba2" text-anchor="end" >6.</text><text x="779.0" y="325.8" font-size="3.60" fill="#8f8ba2" >SOFTWARE</text><text x="777.6" y="330.4" font-size="3.60" fill="#fff" font-weight="700" text-anchor="end" >7.</text><text x="779.0" y="330.4" font-size="3.60" fill="#fff" font-weight="700" >GOVERNMENT</text><text x="777.6" y="334.9" font-size="3.60" fill="#8f8ba2" text-anchor="end" >7.</text><text x="779.0" y="334.9" font-size="3.60" fill="#8f8ba2" >WEB</text><text x="777.6" y="339.5" font-size="3.60" fill="#fff" font-weight="700" text-anchor="end" >8.</text><text x="779.0" y="339.5" font-size="3.60" fill="#fff" font-weight="700" >STARTUPS</text><text x="777.6" y="344.1" font-size="3.60" fill="#8f8ba2" text-anchor="end" >8.</text><text x="779.0" y="344.1" font-size="3.60" fill="#8f8ba2" >SEO</text><text x="777.6" y="348.7" font-size="3.60" fill="#fff" font-weight="700" text-anchor="end" >9.</text><text x="779.0" y="348.7" font-size="3.60" fill="#fff" font-weight="700" >PRESS</text><text x="777.6" y="353.3" font-size="3.60" fill="#8f8ba2" text-anchor="end" >9.</text><text x="779.0" y="353.3" font-size="3.60" fill="#8f8ba2" >ONLINE</text><text x="777.6" y="357.8" font-size="3.60" fill="#fff" font-weight="700" text-anchor="end" >10.</text><text x="779.0" y="357.8" font-size="3.60" fill="#fff" font-weight="700" >SEO</text><text x="777.6" y="362.4" font-size="3.60" fill="#8f8ba2" text-anchor="end" >10.</text><text x="779.0" y="362.4" font-size="3.60" fill="#8f8ba2" >WEB</text>
</svg>
</div>
</body></html>
